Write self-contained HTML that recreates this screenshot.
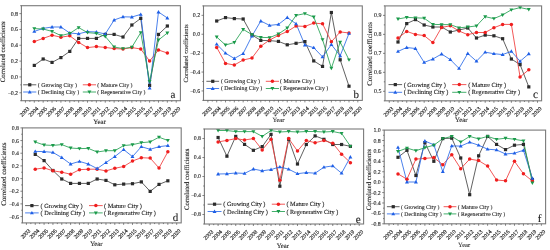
<!DOCTYPE html>
<html><head><meta charset="utf-8"><style>
html,body{margin:0;padding:0;background:#fff;width:550px;height:250px;overflow:hidden}
svg{display:block}
text{font-family:"Liberation Serif",serif;fill:#1a1a1a;stroke:#1a1a1a;stroke-width:0.1px;text-rendering:geometricPrecision}
svg{will-change:transform}

</style></head><body>
<svg width="550" height="250" viewBox="0 0 550 250">
<rect width="550" height="250" fill="#fff"/>
<polyline points="34.30,65.40 43.17,59.00 52.04,62.40 60.91,57.60 69.78,51.40 78.65,38.40 87.52,38.40 96.39,38.40 105.26,34.40 114.13,34.40 123.00,37.00 131.87,25.00 140.74,18.40 149.61,85.40 158.48,34.40 167.35,26.00" fill="none" stroke="#444444" stroke-width="0.85" stroke-linejoin="round"/>
<polyline points="34.30,41.60 43.17,38.40 52.04,35.20 60.91,37.20 69.78,35.80 78.65,42.40 87.52,47.60 96.39,46.60 105.26,47.40 114.13,48.60 123.00,49.00 131.87,47.60 140.74,49.00 149.61,61.00 158.48,50.00 167.35,53.00" fill="none" stroke="#f03a3a" stroke-width="0.85" stroke-linejoin="round"/>
<polyline points="34.30,31.40 43.17,28.40 52.04,27.00 60.91,27.00 69.78,33.00 78.65,33.80 87.52,31.60 96.39,32.00 105.26,34.00 114.13,20.00 123.00,16.80 131.87,17.00 140.74,14.40 149.61,88.00 158.48,12.00 167.35,18.00" fill="none" stroke="#2a6ae8" stroke-width="0.85" stroke-linejoin="round"/>
<polyline points="34.30,28.60 43.17,29.00 52.04,31.40 60.91,35.60 69.78,33.40 78.65,27.60 87.52,32.60 96.39,33.40 105.26,36.40 114.13,47.00 123.00,48.60 131.87,47.20 140.74,32.60 149.61,81.40 158.48,40.00 167.35,33.00" fill="none" stroke="#24a052" stroke-width="0.85" stroke-linejoin="round"/>
<rect x="32.70" y="63.80" width="3.20" height="3.20" fill="#2b2b2b"/>
<rect x="41.57" y="57.40" width="3.20" height="3.20" fill="#2b2b2b"/>
<rect x="50.44" y="60.80" width="3.20" height="3.20" fill="#2b2b2b"/>
<rect x="59.31" y="56.00" width="3.20" height="3.20" fill="#2b2b2b"/>
<rect x="68.18" y="49.80" width="3.20" height="3.20" fill="#2b2b2b"/>
<rect x="77.05" y="36.80" width="3.20" height="3.20" fill="#2b2b2b"/>
<rect x="85.92" y="36.80" width="3.20" height="3.20" fill="#2b2b2b"/>
<rect x="94.79" y="36.80" width="3.20" height="3.20" fill="#2b2b2b"/>
<rect x="103.66" y="32.80" width="3.20" height="3.20" fill="#2b2b2b"/>
<rect x="112.53" y="32.80" width="3.20" height="3.20" fill="#2b2b2b"/>
<rect x="121.40" y="35.40" width="3.20" height="3.20" fill="#2b2b2b"/>
<rect x="130.27" y="23.40" width="3.20" height="3.20" fill="#2b2b2b"/>
<rect x="139.14" y="16.80" width="3.20" height="3.20" fill="#2b2b2b"/>
<rect x="148.01" y="83.80" width="3.20" height="3.20" fill="#2b2b2b"/>
<rect x="156.88" y="32.80" width="3.20" height="3.20" fill="#2b2b2b"/>
<rect x="165.75" y="24.40" width="3.20" height="3.20" fill="#2b2b2b"/>
<circle cx="34.30" cy="41.60" r="1.75" fill="#f01e1e"/>
<circle cx="43.17" cy="38.40" r="1.75" fill="#f01e1e"/>
<circle cx="52.04" cy="35.20" r="1.75" fill="#f01e1e"/>
<circle cx="60.91" cy="37.20" r="1.75" fill="#f01e1e"/>
<circle cx="69.78" cy="35.80" r="1.75" fill="#f01e1e"/>
<circle cx="78.65" cy="42.40" r="1.75" fill="#f01e1e"/>
<circle cx="87.52" cy="47.60" r="1.75" fill="#f01e1e"/>
<circle cx="96.39" cy="46.60" r="1.75" fill="#f01e1e"/>
<circle cx="105.26" cy="47.40" r="1.75" fill="#f01e1e"/>
<circle cx="114.13" cy="48.60" r="1.75" fill="#f01e1e"/>
<circle cx="123.00" cy="49.00" r="1.75" fill="#f01e1e"/>
<circle cx="131.87" cy="47.60" r="1.75" fill="#f01e1e"/>
<circle cx="140.74" cy="49.00" r="1.75" fill="#f01e1e"/>
<circle cx="149.61" cy="61.00" r="1.75" fill="#f01e1e"/>
<circle cx="158.48" cy="50.00" r="1.75" fill="#f01e1e"/>
<circle cx="167.35" cy="53.00" r="1.75" fill="#f01e1e"/>
<path d="M34.30 29.42L36.28 32.79L32.32 32.79Z" fill="#1f5fe6"/>
<path d="M43.17 26.42L45.15 29.79L41.19 29.79Z" fill="#1f5fe6"/>
<path d="M52.04 25.02L54.02 28.39L50.06 28.39Z" fill="#1f5fe6"/>
<path d="M60.91 25.02L62.89 28.39L58.93 28.39Z" fill="#1f5fe6"/>
<path d="M69.78 31.02L71.76 34.39L67.80 34.39Z" fill="#1f5fe6"/>
<path d="M78.65 31.82L80.63 35.19L76.67 35.19Z" fill="#1f5fe6"/>
<path d="M87.52 29.62L89.50 32.99L85.54 32.99Z" fill="#1f5fe6"/>
<path d="M96.39 30.02L98.37 33.39L94.41 33.39Z" fill="#1f5fe6"/>
<path d="M105.26 32.02L107.24 35.39L103.28 35.39Z" fill="#1f5fe6"/>
<path d="M114.13 18.02L116.11 21.39L112.15 21.39Z" fill="#1f5fe6"/>
<path d="M123.00 14.82L124.98 18.19L121.02 18.19Z" fill="#1f5fe6"/>
<path d="M131.87 15.02L133.85 18.39L129.89 18.39Z" fill="#1f5fe6"/>
<path d="M140.74 12.42L142.72 15.79L138.76 15.79Z" fill="#1f5fe6"/>
<path d="M149.61 86.02L151.59 89.39L147.63 89.39Z" fill="#1f5fe6"/>
<path d="M158.48 10.02L160.46 13.39L156.50 13.39Z" fill="#1f5fe6"/>
<path d="M167.35 16.02L169.33 19.39L165.37 19.39Z" fill="#1f5fe6"/>
<path d="M34.30 30.58L36.28 27.21L32.32 27.21Z" fill="#1a9a4a"/>
<path d="M43.17 30.98L45.15 27.61L41.19 27.61Z" fill="#1a9a4a"/>
<path d="M52.04 33.38L54.02 30.01L50.06 30.01Z" fill="#1a9a4a"/>
<path d="M60.91 37.58L62.89 34.21L58.93 34.21Z" fill="#1a9a4a"/>
<path d="M69.78 35.38L71.76 32.01L67.80 32.01Z" fill="#1a9a4a"/>
<path d="M78.65 29.58L80.63 26.21L76.67 26.21Z" fill="#1a9a4a"/>
<path d="M87.52 34.58L89.50 31.21L85.54 31.21Z" fill="#1a9a4a"/>
<path d="M96.39 35.38L98.37 32.01L94.41 32.01Z" fill="#1a9a4a"/>
<path d="M105.26 38.38L107.24 35.01L103.28 35.01Z" fill="#1a9a4a"/>
<path d="M114.13 48.98L116.11 45.61L112.15 45.61Z" fill="#1a9a4a"/>
<path d="M123.00 50.58L124.98 47.21L121.02 47.21Z" fill="#1a9a4a"/>
<path d="M131.87 49.18L133.85 45.81L129.89 45.81Z" fill="#1a9a4a"/>
<path d="M140.74 34.58L142.72 31.21L138.76 31.21Z" fill="#1a9a4a"/>
<path d="M149.61 83.38L151.59 80.01L147.63 80.01Z" fill="#1a9a4a"/>
<path d="M158.48 41.98L160.46 38.61L156.50 38.61Z" fill="#1a9a4a"/>
<path d="M167.35 34.98L169.33 31.61L165.37 31.61Z" fill="#1a9a4a"/>
<rect x="21.40" y="5.70" width="159.00" height="95.00" fill="none" stroke="#7a7a7a" stroke-width="1.1"/>
<line x1="20.20" y1="100.70" x2="21.40" y2="100.70" stroke="#555" stroke-width="0.7"/>
<line x1="19.40" y1="92.78" x2="21.40" y2="92.78" stroke="#555" stroke-width="0.7"/>
<text x="18.00" y="94.79" font-size="5.9" text-anchor="end">–<tspan dx="-0.7">0.2</tspan></text>
<line x1="20.20" y1="84.87" x2="21.40" y2="84.87" stroke="#555" stroke-width="0.7"/>
<line x1="19.40" y1="76.95" x2="21.40" y2="76.95" stroke="#555" stroke-width="0.7"/>
<text x="18.00" y="78.96" font-size="5.9" text-anchor="end">0.0</text>
<line x1="20.20" y1="69.03" x2="21.40" y2="69.03" stroke="#555" stroke-width="0.7"/>
<line x1="19.40" y1="61.12" x2="21.40" y2="61.12" stroke="#555" stroke-width="0.7"/>
<text x="18.00" y="63.12" font-size="5.9" text-anchor="end">0.2</text>
<line x1="20.20" y1="53.20" x2="21.40" y2="53.20" stroke="#555" stroke-width="0.7"/>
<line x1="19.40" y1="45.28" x2="21.40" y2="45.28" stroke="#555" stroke-width="0.7"/>
<text x="18.00" y="47.29" font-size="5.9" text-anchor="end">0.4</text>
<line x1="20.20" y1="37.37" x2="21.40" y2="37.37" stroke="#555" stroke-width="0.7"/>
<line x1="19.40" y1="29.45" x2="21.40" y2="29.45" stroke="#555" stroke-width="0.7"/>
<text x="18.00" y="31.46" font-size="5.9" text-anchor="end">0.6</text>
<line x1="20.20" y1="21.53" x2="21.40" y2="21.53" stroke="#555" stroke-width="0.7"/>
<line x1="19.40" y1="13.62" x2="21.40" y2="13.62" stroke="#555" stroke-width="0.7"/>
<text x="18.00" y="15.62" font-size="5.9" text-anchor="end">0.8</text>
<line x1="20.20" y1="5.70" x2="21.40" y2="5.70" stroke="#555" stroke-width="0.7"/>
<line x1="25.43" y1="100.70" x2="25.43" y2="102.70" stroke="#555" stroke-width="0.7"/>
<line x1="29.86" y1="100.70" x2="29.86" y2="101.90" stroke="#555" stroke-width="0.7"/>
<text x="29.83" y="109.00" font-size="5.6" text-anchor="end" style="stroke-width:0.16px" transform="rotate(-45 29.83 109.00)">2003</text>
<line x1="34.30" y1="100.70" x2="34.30" y2="102.70" stroke="#555" stroke-width="0.7"/>
<line x1="38.73" y1="100.70" x2="38.73" y2="101.90" stroke="#555" stroke-width="0.7"/>
<text x="38.70" y="109.00" font-size="5.6" text-anchor="end" style="stroke-width:0.16px" transform="rotate(-45 38.70 109.00)">2004</text>
<line x1="43.17" y1="100.70" x2="43.17" y2="102.70" stroke="#555" stroke-width="0.7"/>
<line x1="47.60" y1="100.70" x2="47.60" y2="101.90" stroke="#555" stroke-width="0.7"/>
<text x="47.57" y="109.00" font-size="5.6" text-anchor="end" style="stroke-width:0.16px" transform="rotate(-45 47.57 109.00)">2005</text>
<line x1="52.04" y1="100.70" x2="52.04" y2="102.70" stroke="#555" stroke-width="0.7"/>
<line x1="56.47" y1="100.70" x2="56.47" y2="101.90" stroke="#555" stroke-width="0.7"/>
<text x="56.44" y="109.00" font-size="5.6" text-anchor="end" style="stroke-width:0.16px" transform="rotate(-45 56.44 109.00)">2006</text>
<line x1="60.91" y1="100.70" x2="60.91" y2="102.70" stroke="#555" stroke-width="0.7"/>
<line x1="65.34" y1="100.70" x2="65.34" y2="101.90" stroke="#555" stroke-width="0.7"/>
<text x="65.31" y="109.00" font-size="5.6" text-anchor="end" style="stroke-width:0.16px" transform="rotate(-45 65.31 109.00)">2007</text>
<line x1="69.78" y1="100.70" x2="69.78" y2="102.70" stroke="#555" stroke-width="0.7"/>
<line x1="74.22" y1="100.70" x2="74.22" y2="101.90" stroke="#555" stroke-width="0.7"/>
<text x="74.18" y="109.00" font-size="5.6" text-anchor="end" style="stroke-width:0.16px" transform="rotate(-45 74.18 109.00)">2008</text>
<line x1="78.65" y1="100.70" x2="78.65" y2="102.70" stroke="#555" stroke-width="0.7"/>
<line x1="83.08" y1="100.70" x2="83.08" y2="101.90" stroke="#555" stroke-width="0.7"/>
<text x="83.05" y="109.00" font-size="5.6" text-anchor="end" style="stroke-width:0.16px" transform="rotate(-45 83.05 109.00)">2009</text>
<line x1="87.52" y1="100.70" x2="87.52" y2="102.70" stroke="#555" stroke-width="0.7"/>
<line x1="91.95" y1="100.70" x2="91.95" y2="101.90" stroke="#555" stroke-width="0.7"/>
<text x="91.92" y="109.00" font-size="5.6" text-anchor="end" style="stroke-width:0.16px" transform="rotate(-45 91.92 109.00)">2010</text>
<line x1="96.39" y1="100.70" x2="96.39" y2="102.70" stroke="#555" stroke-width="0.7"/>
<line x1="100.82" y1="100.70" x2="100.82" y2="101.90" stroke="#555" stroke-width="0.7"/>
<text x="100.79" y="109.00" font-size="5.6" text-anchor="end" style="stroke-width:0.16px" transform="rotate(-45 100.79 109.00)">2011</text>
<line x1="105.26" y1="100.70" x2="105.26" y2="102.70" stroke="#555" stroke-width="0.7"/>
<line x1="109.69" y1="100.70" x2="109.69" y2="101.90" stroke="#555" stroke-width="0.7"/>
<text x="109.66" y="109.00" font-size="5.6" text-anchor="end" style="stroke-width:0.16px" transform="rotate(-45 109.66 109.00)">2012</text>
<line x1="114.13" y1="100.70" x2="114.13" y2="102.70" stroke="#555" stroke-width="0.7"/>
<line x1="118.56" y1="100.70" x2="118.56" y2="101.90" stroke="#555" stroke-width="0.7"/>
<text x="118.53" y="109.00" font-size="5.6" text-anchor="end" style="stroke-width:0.16px" transform="rotate(-45 118.53 109.00)">2013</text>
<line x1="123.00" y1="100.70" x2="123.00" y2="102.70" stroke="#555" stroke-width="0.7"/>
<line x1="127.43" y1="100.70" x2="127.43" y2="101.90" stroke="#555" stroke-width="0.7"/>
<text x="127.40" y="109.00" font-size="5.6" text-anchor="end" style="stroke-width:0.16px" transform="rotate(-45 127.40 109.00)">2014</text>
<line x1="131.87" y1="100.70" x2="131.87" y2="102.70" stroke="#555" stroke-width="0.7"/>
<line x1="136.31" y1="100.70" x2="136.31" y2="101.90" stroke="#555" stroke-width="0.7"/>
<text x="136.27" y="109.00" font-size="5.6" text-anchor="end" style="stroke-width:0.16px" transform="rotate(-45 136.27 109.00)">2015</text>
<line x1="140.74" y1="100.70" x2="140.74" y2="102.70" stroke="#555" stroke-width="0.7"/>
<line x1="145.18" y1="100.70" x2="145.18" y2="101.90" stroke="#555" stroke-width="0.7"/>
<text x="145.14" y="109.00" font-size="5.6" text-anchor="end" style="stroke-width:0.16px" transform="rotate(-45 145.14 109.00)">2016</text>
<line x1="149.61" y1="100.70" x2="149.61" y2="102.70" stroke="#555" stroke-width="0.7"/>
<line x1="154.04" y1="100.70" x2="154.04" y2="101.90" stroke="#555" stroke-width="0.7"/>
<text x="154.01" y="109.00" font-size="5.6" text-anchor="end" style="stroke-width:0.16px" transform="rotate(-45 154.01 109.00)">2017</text>
<line x1="158.48" y1="100.70" x2="158.48" y2="102.70" stroke="#555" stroke-width="0.7"/>
<line x1="162.91" y1="100.70" x2="162.91" y2="101.90" stroke="#555" stroke-width="0.7"/>
<text x="162.88" y="109.00" font-size="5.6" text-anchor="end" style="stroke-width:0.16px" transform="rotate(-45 162.88 109.00)">2018</text>
<line x1="167.35" y1="100.70" x2="167.35" y2="102.70" stroke="#555" stroke-width="0.7"/>
<line x1="171.78" y1="100.70" x2="171.78" y2="101.90" stroke="#555" stroke-width="0.7"/>
<text x="171.75" y="109.00" font-size="5.6" text-anchor="end" style="stroke-width:0.16px" transform="rotate(-45 171.75 109.00)">2019</text>
<line x1="176.22" y1="100.70" x2="176.22" y2="102.70" stroke="#555" stroke-width="0.7"/>
<text x="180.62" y="109.00" font-size="5.6" text-anchor="end" style="stroke-width:0.16px" transform="rotate(-45 180.62 109.00)">2020</text>
<text x="99.60" y="123.6" font-size="6.9" text-anchor="middle">Year</text>
<text x="5.00" y="51.80" font-size="6.7" text-anchor="middle" transform="rotate(-90 5.00 51.80)">Correlated coefficients</text>
<line x1="23.20" y1="84.80" x2="36.30" y2="84.80" stroke="#444444" stroke-width="0.85"/>
<rect x="28.15" y="83.20" width="3.20" height="3.20" fill="#2b2b2b"/>
<text x="37.80" y="86.67" font-size="5.85">( Growing City )</text>
<line x1="23.20" y1="92.00" x2="36.30" y2="92.00" stroke="#2a6ae8" stroke-width="0.85"/>
<path d="M29.75 90.02L31.73 93.39L27.77 93.39Z" fill="#1f5fe6"/>
<text x="37.80" y="93.87" font-size="5.85">( Declining City )</text>
<line x1="82.80" y1="84.80" x2="96.00" y2="84.80" stroke="#f03a3a" stroke-width="0.85"/>
<circle cx="89.40" cy="84.80" r="1.75" fill="#f01e1e"/>
<text x="97.30" y="86.67" font-size="5.85">( Mature City )</text>
<line x1="82.80" y1="92.00" x2="96.00" y2="92.00" stroke="#24a052" stroke-width="0.85"/>
<path d="M89.40 93.98L91.38 90.61L87.42 90.61Z" fill="#1a9a4a"/>
<text x="97.30" y="93.87" font-size="5.85" textLength="48.12" lengthAdjust="spacingAndGlyphs">( Regenerative City )</text>
<text x="170.60" y="97.60" font-size="11">a</text>
<polyline points="216.70,21.00 225.52,17.60 234.34,18.60 243.16,19.00 251.98,35.00 260.80,40.40 269.62,40.60 278.44,41.40 287.26,44.80 296.08,43.30 304.90,41.60 313.72,60.90 322.54,66.40 331.36,12.50 340.18,59.80 349.00,86.20" fill="none" stroke="#444444" stroke-width="0.85" stroke-linejoin="round"/>
<polyline points="216.70,47.40 225.52,63.40 234.34,65.00 243.16,60.00 251.98,58.00 260.80,46.20 269.62,40.00 278.44,35.40 287.26,31.50 296.08,26.00 304.90,26.40 313.72,23.10 322.54,23.80 331.36,41.80 340.18,31.90 349.00,33.00" fill="none" stroke="#f03a3a" stroke-width="0.85" stroke-linejoin="round"/>
<polyline points="216.70,44.20 225.52,53.20 234.34,58.50 243.16,53.50 251.98,36.00 260.80,21.00 269.62,25.40 278.44,24.40 287.26,17.60 296.08,23.80 304.90,45.00 313.72,47.70 322.54,56.90 331.36,44.60 340.18,55.80 349.00,33.40" fill="none" stroke="#2a6ae8" stroke-width="0.85" stroke-linejoin="round"/>
<polyline points="216.70,37.00 225.52,45.00 234.34,42.50 243.16,29.40 251.98,34.60 260.80,37.40 269.62,37.60 278.44,34.00 287.26,28.00 296.08,15.40 304.90,13.60 313.72,17.00 322.54,39.60 331.36,68.20 340.18,42.20 349.00,59.80" fill="none" stroke="#24a052" stroke-width="0.85" stroke-linejoin="round"/>
<rect x="215.10" y="19.40" width="3.20" height="3.20" fill="#2b2b2b"/>
<rect x="223.92" y="16.00" width="3.20" height="3.20" fill="#2b2b2b"/>
<rect x="232.74" y="17.00" width="3.20" height="3.20" fill="#2b2b2b"/>
<rect x="241.56" y="17.40" width="3.20" height="3.20" fill="#2b2b2b"/>
<rect x="250.38" y="33.40" width="3.20" height="3.20" fill="#2b2b2b"/>
<rect x="259.20" y="38.80" width="3.20" height="3.20" fill="#2b2b2b"/>
<rect x="268.02" y="39.00" width="3.20" height="3.20" fill="#2b2b2b"/>
<rect x="276.84" y="39.80" width="3.20" height="3.20" fill="#2b2b2b"/>
<rect x="285.66" y="43.20" width="3.20" height="3.20" fill="#2b2b2b"/>
<rect x="294.48" y="41.70" width="3.20" height="3.20" fill="#2b2b2b"/>
<rect x="303.30" y="40.00" width="3.20" height="3.20" fill="#2b2b2b"/>
<rect x="312.12" y="59.30" width="3.20" height="3.20" fill="#2b2b2b"/>
<rect x="320.94" y="64.80" width="3.20" height="3.20" fill="#2b2b2b"/>
<rect x="329.76" y="10.90" width="3.20" height="3.20" fill="#2b2b2b"/>
<rect x="338.58" y="58.20" width="3.20" height="3.20" fill="#2b2b2b"/>
<rect x="347.40" y="84.60" width="3.20" height="3.20" fill="#2b2b2b"/>
<circle cx="216.70" cy="47.40" r="1.75" fill="#f01e1e"/>
<circle cx="225.52" cy="63.40" r="1.75" fill="#f01e1e"/>
<circle cx="234.34" cy="65.00" r="1.75" fill="#f01e1e"/>
<circle cx="243.16" cy="60.00" r="1.75" fill="#f01e1e"/>
<circle cx="251.98" cy="58.00" r="1.75" fill="#f01e1e"/>
<circle cx="260.80" cy="46.20" r="1.75" fill="#f01e1e"/>
<circle cx="269.62" cy="40.00" r="1.75" fill="#f01e1e"/>
<circle cx="278.44" cy="35.40" r="1.75" fill="#f01e1e"/>
<circle cx="287.26" cy="31.50" r="1.75" fill="#f01e1e"/>
<circle cx="296.08" cy="26.00" r="1.75" fill="#f01e1e"/>
<circle cx="304.90" cy="26.40" r="1.75" fill="#f01e1e"/>
<circle cx="313.72" cy="23.10" r="1.75" fill="#f01e1e"/>
<circle cx="322.54" cy="23.80" r="1.75" fill="#f01e1e"/>
<circle cx="331.36" cy="41.80" r="1.75" fill="#f01e1e"/>
<circle cx="340.18" cy="31.90" r="1.75" fill="#f01e1e"/>
<circle cx="349.00" cy="33.00" r="1.75" fill="#f01e1e"/>
<path d="M216.70 42.22L218.68 45.59L214.72 45.59Z" fill="#1f5fe6"/>
<path d="M225.52 51.22L227.50 54.59L223.54 54.59Z" fill="#1f5fe6"/>
<path d="M234.34 56.52L236.32 59.89L232.36 59.89Z" fill="#1f5fe6"/>
<path d="M243.16 51.52L245.14 54.89L241.18 54.89Z" fill="#1f5fe6"/>
<path d="M251.98 34.02L253.96 37.39L250.00 37.39Z" fill="#1f5fe6"/>
<path d="M260.80 19.02L262.78 22.39L258.82 22.39Z" fill="#1f5fe6"/>
<path d="M269.62 23.42L271.60 26.79L267.64 26.79Z" fill="#1f5fe6"/>
<path d="M278.44 22.42L280.42 25.79L276.46 25.79Z" fill="#1f5fe6"/>
<path d="M287.26 15.62L289.24 18.99L285.28 18.99Z" fill="#1f5fe6"/>
<path d="M296.08 21.82L298.06 25.19L294.10 25.19Z" fill="#1f5fe6"/>
<path d="M304.90 43.02L306.88 46.39L302.92 46.39Z" fill="#1f5fe6"/>
<path d="M313.72 45.72L315.70 49.09L311.74 49.09Z" fill="#1f5fe6"/>
<path d="M322.54 54.92L324.52 58.29L320.56 58.29Z" fill="#1f5fe6"/>
<path d="M331.36 42.62L333.34 45.99L329.38 45.99Z" fill="#1f5fe6"/>
<path d="M340.18 53.82L342.16 57.19L338.20 57.19Z" fill="#1f5fe6"/>
<path d="M349.00 31.42L350.98 34.79L347.02 34.79Z" fill="#1f5fe6"/>
<path d="M216.70 38.98L218.68 35.61L214.72 35.61Z" fill="#1a9a4a"/>
<path d="M225.52 46.98L227.50 43.61L223.54 43.61Z" fill="#1a9a4a"/>
<path d="M234.34 44.48L236.32 41.11L232.36 41.11Z" fill="#1a9a4a"/>
<path d="M243.16 31.38L245.14 28.01L241.18 28.01Z" fill="#1a9a4a"/>
<path d="M251.98 36.58L253.96 33.21L250.00 33.21Z" fill="#1a9a4a"/>
<path d="M260.80 39.38L262.78 36.01L258.82 36.01Z" fill="#1a9a4a"/>
<path d="M269.62 39.58L271.60 36.21L267.64 36.21Z" fill="#1a9a4a"/>
<path d="M278.44 35.98L280.42 32.61L276.46 32.61Z" fill="#1a9a4a"/>
<path d="M287.26 29.98L289.24 26.61L285.28 26.61Z" fill="#1a9a4a"/>
<path d="M296.08 17.38L298.06 14.01L294.10 14.01Z" fill="#1a9a4a"/>
<path d="M304.90 15.58L306.88 12.21L302.92 12.21Z" fill="#1a9a4a"/>
<path d="M313.72 18.98L315.70 15.61L311.74 15.61Z" fill="#1a9a4a"/>
<path d="M322.54 41.58L324.52 38.21L320.56 38.21Z" fill="#1a9a4a"/>
<path d="M331.36 70.18L333.34 66.81L329.38 66.81Z" fill="#1a9a4a"/>
<path d="M340.18 44.18L342.16 40.81L338.20 40.81Z" fill="#1a9a4a"/>
<path d="M349.00 61.78L350.98 58.41L347.02 58.41Z" fill="#1a9a4a"/>
<rect x="203.50" y="5.90" width="158.80" height="94.50" fill="none" stroke="#7a7a7a" stroke-width="1.1"/>
<line x1="202.30" y1="100.40" x2="203.50" y2="100.40" stroke="#555" stroke-width="0.7"/>
<line x1="201.50" y1="90.95" x2="203.50" y2="90.95" stroke="#555" stroke-width="0.7"/>
<text x="200.10" y="92.96" font-size="5.9" text-anchor="end">–<tspan dx="-0.7">0.6</tspan></text>
<line x1="202.30" y1="81.50" x2="203.50" y2="81.50" stroke="#555" stroke-width="0.7"/>
<line x1="201.50" y1="72.05" x2="203.50" y2="72.05" stroke="#555" stroke-width="0.7"/>
<text x="200.10" y="74.06" font-size="5.9" text-anchor="end">–<tspan dx="-0.7">0.4</tspan></text>
<line x1="202.30" y1="62.60" x2="203.50" y2="62.60" stroke="#555" stroke-width="0.7"/>
<line x1="201.50" y1="53.15" x2="203.50" y2="53.15" stroke="#555" stroke-width="0.7"/>
<text x="200.10" y="55.16" font-size="5.9" text-anchor="end">–<tspan dx="-0.7">0.2</tspan></text>
<line x1="202.30" y1="43.70" x2="203.50" y2="43.70" stroke="#555" stroke-width="0.7"/>
<line x1="201.50" y1="34.25" x2="203.50" y2="34.25" stroke="#555" stroke-width="0.7"/>
<text x="200.10" y="36.26" font-size="5.9" text-anchor="end">0.0</text>
<line x1="202.30" y1="24.80" x2="203.50" y2="24.80" stroke="#555" stroke-width="0.7"/>
<line x1="201.50" y1="15.35" x2="203.50" y2="15.35" stroke="#555" stroke-width="0.7"/>
<text x="200.10" y="17.36" font-size="5.9" text-anchor="end">0.2</text>
<line x1="202.30" y1="5.90" x2="203.50" y2="5.90" stroke="#555" stroke-width="0.7"/>
<line x1="207.88" y1="100.40" x2="207.88" y2="102.40" stroke="#555" stroke-width="0.7"/>
<line x1="212.29" y1="100.40" x2="212.29" y2="101.60" stroke="#555" stroke-width="0.7"/>
<text x="212.28" y="108.70" font-size="5.6" text-anchor="end" style="stroke-width:0.16px" transform="rotate(-45 212.28 108.70)">2003</text>
<line x1="216.70" y1="100.40" x2="216.70" y2="102.40" stroke="#555" stroke-width="0.7"/>
<line x1="221.11" y1="100.40" x2="221.11" y2="101.60" stroke="#555" stroke-width="0.7"/>
<text x="221.10" y="108.70" font-size="5.6" text-anchor="end" style="stroke-width:0.16px" transform="rotate(-45 221.10 108.70)">2004</text>
<line x1="225.52" y1="100.40" x2="225.52" y2="102.40" stroke="#555" stroke-width="0.7"/>
<line x1="229.93" y1="100.40" x2="229.93" y2="101.60" stroke="#555" stroke-width="0.7"/>
<text x="229.92" y="108.70" font-size="5.6" text-anchor="end" style="stroke-width:0.16px" transform="rotate(-45 229.92 108.70)">2005</text>
<line x1="234.34" y1="100.40" x2="234.34" y2="102.40" stroke="#555" stroke-width="0.7"/>
<line x1="238.75" y1="100.40" x2="238.75" y2="101.60" stroke="#555" stroke-width="0.7"/>
<text x="238.74" y="108.70" font-size="5.6" text-anchor="end" style="stroke-width:0.16px" transform="rotate(-45 238.74 108.70)">2006</text>
<line x1="243.16" y1="100.40" x2="243.16" y2="102.40" stroke="#555" stroke-width="0.7"/>
<line x1="247.57" y1="100.40" x2="247.57" y2="101.60" stroke="#555" stroke-width="0.7"/>
<text x="247.56" y="108.70" font-size="5.6" text-anchor="end" style="stroke-width:0.16px" transform="rotate(-45 247.56 108.70)">2007</text>
<line x1="251.98" y1="100.40" x2="251.98" y2="102.40" stroke="#555" stroke-width="0.7"/>
<line x1="256.39" y1="100.40" x2="256.39" y2="101.60" stroke="#555" stroke-width="0.7"/>
<text x="256.38" y="108.70" font-size="5.6" text-anchor="end" style="stroke-width:0.16px" transform="rotate(-45 256.38 108.70)">2008</text>
<line x1="260.80" y1="100.40" x2="260.80" y2="102.40" stroke="#555" stroke-width="0.7"/>
<line x1="265.21" y1="100.40" x2="265.21" y2="101.60" stroke="#555" stroke-width="0.7"/>
<text x="265.20" y="108.70" font-size="5.6" text-anchor="end" style="stroke-width:0.16px" transform="rotate(-45 265.20 108.70)">2009</text>
<line x1="269.62" y1="100.40" x2="269.62" y2="102.40" stroke="#555" stroke-width="0.7"/>
<line x1="274.03" y1="100.40" x2="274.03" y2="101.60" stroke="#555" stroke-width="0.7"/>
<text x="274.02" y="108.70" font-size="5.6" text-anchor="end" style="stroke-width:0.16px" transform="rotate(-45 274.02 108.70)">2010</text>
<line x1="278.44" y1="100.40" x2="278.44" y2="102.40" stroke="#555" stroke-width="0.7"/>
<line x1="282.85" y1="100.40" x2="282.85" y2="101.60" stroke="#555" stroke-width="0.7"/>
<text x="282.84" y="108.70" font-size="5.6" text-anchor="end" style="stroke-width:0.16px" transform="rotate(-45 282.84 108.70)">2011</text>
<line x1="287.26" y1="100.40" x2="287.26" y2="102.40" stroke="#555" stroke-width="0.7"/>
<line x1="291.67" y1="100.40" x2="291.67" y2="101.60" stroke="#555" stroke-width="0.7"/>
<text x="291.66" y="108.70" font-size="5.6" text-anchor="end" style="stroke-width:0.16px" transform="rotate(-45 291.66 108.70)">2012</text>
<line x1="296.08" y1="100.40" x2="296.08" y2="102.40" stroke="#555" stroke-width="0.7"/>
<line x1="300.49" y1="100.40" x2="300.49" y2="101.60" stroke="#555" stroke-width="0.7"/>
<text x="300.48" y="108.70" font-size="5.6" text-anchor="end" style="stroke-width:0.16px" transform="rotate(-45 300.48 108.70)">2013</text>
<line x1="304.90" y1="100.40" x2="304.90" y2="102.40" stroke="#555" stroke-width="0.7"/>
<line x1="309.31" y1="100.40" x2="309.31" y2="101.60" stroke="#555" stroke-width="0.7"/>
<text x="309.30" y="108.70" font-size="5.6" text-anchor="end" style="stroke-width:0.16px" transform="rotate(-45 309.30 108.70)">2014</text>
<line x1="313.72" y1="100.40" x2="313.72" y2="102.40" stroke="#555" stroke-width="0.7"/>
<line x1="318.13" y1="100.40" x2="318.13" y2="101.60" stroke="#555" stroke-width="0.7"/>
<text x="318.12" y="108.70" font-size="5.6" text-anchor="end" style="stroke-width:0.16px" transform="rotate(-45 318.12 108.70)">2015</text>
<line x1="322.54" y1="100.40" x2="322.54" y2="102.40" stroke="#555" stroke-width="0.7"/>
<line x1="326.95" y1="100.40" x2="326.95" y2="101.60" stroke="#555" stroke-width="0.7"/>
<text x="326.94" y="108.70" font-size="5.6" text-anchor="end" style="stroke-width:0.16px" transform="rotate(-45 326.94 108.70)">2016</text>
<line x1="331.36" y1="100.40" x2="331.36" y2="102.40" stroke="#555" stroke-width="0.7"/>
<line x1="335.77" y1="100.40" x2="335.77" y2="101.60" stroke="#555" stroke-width="0.7"/>
<text x="335.76" y="108.70" font-size="5.6" text-anchor="end" style="stroke-width:0.16px" transform="rotate(-45 335.76 108.70)">2017</text>
<line x1="340.18" y1="100.40" x2="340.18" y2="102.40" stroke="#555" stroke-width="0.7"/>
<line x1="344.59" y1="100.40" x2="344.59" y2="101.60" stroke="#555" stroke-width="0.7"/>
<text x="344.58" y="108.70" font-size="5.6" text-anchor="end" style="stroke-width:0.16px" transform="rotate(-45 344.58 108.70)">2018</text>
<line x1="349.00" y1="100.40" x2="349.00" y2="102.40" stroke="#555" stroke-width="0.7"/>
<line x1="353.41" y1="100.40" x2="353.41" y2="101.60" stroke="#555" stroke-width="0.7"/>
<text x="353.40" y="108.70" font-size="5.6" text-anchor="end" style="stroke-width:0.16px" transform="rotate(-45 353.40 108.70)">2019</text>
<line x1="357.82" y1="100.40" x2="357.82" y2="102.40" stroke="#555" stroke-width="0.7"/>
<text x="362.22" y="108.70" font-size="5.6" text-anchor="end" style="stroke-width:0.16px" transform="rotate(-45 362.22 108.70)">2020</text>
<text x="278.40" y="122.1" font-size="6.5" text-anchor="middle">Year</text>
<text x="188.00" y="53.30" font-size="6.4" text-anchor="middle" transform="rotate(-90 188.00 53.30)">Correlated coefficients</text>
<line x1="206.40" y1="81.30" x2="219.10" y2="81.30" stroke="#444444" stroke-width="0.85"/>
<rect x="211.15" y="79.70" width="3.20" height="3.20" fill="#2b2b2b"/>
<text x="220.90" y="83.17" font-size="5.85">( Growing City )</text>
<line x1="206.40" y1="88.50" x2="219.10" y2="88.50" stroke="#2a6ae8" stroke-width="0.85"/>
<path d="M212.75 86.52L214.73 89.89L210.77 89.89Z" fill="#1f5fe6"/>
<text x="220.90" y="90.37" font-size="5.85">( Declining City )</text>
<line x1="265.80" y1="81.30" x2="279.00" y2="81.30" stroke="#f03a3a" stroke-width="0.85"/>
<circle cx="272.40" cy="81.30" r="1.75" fill="#f01e1e"/>
<text x="280.00" y="83.17" font-size="5.85">( Mature City )</text>
<line x1="265.80" y1="88.50" x2="279.00" y2="88.50" stroke="#24a052" stroke-width="0.85"/>
<path d="M272.40 90.48L274.38 87.11L270.42 87.11Z" fill="#1a9a4a"/>
<text x="280.00" y="90.37" font-size="5.85" textLength="48.12" lengthAdjust="spacingAndGlyphs">( Regenerative City )</text>
<text x="353.60" y="97.60" font-size="11">b</text>
<polyline points="398.00,42.00 406.72,23.60 415.44,19.60 424.16,25.00 432.88,27.00 441.60,27.00 450.32,32.00 459.04,30.00 467.76,28.00 476.48,38.00 485.20,35.10 493.92,35.80 502.64,38.70 511.36,59.00 520.08,64.60 528.80,86.90" fill="none" stroke="#444444" stroke-width="0.85" stroke-linejoin="round"/>
<polyline points="398.00,38.00 406.72,31.40 415.44,34.40 424.16,35.60 432.88,42.60 441.60,27.40 450.32,25.80 459.04,31.00 467.76,34.70 476.48,32.50 485.20,32.50 493.92,27.70 502.64,24.40 511.36,24.40 520.08,77.00 528.80,69.70" fill="none" stroke="#f03a3a" stroke-width="0.85" stroke-linejoin="round"/>
<polyline points="398.00,51.40 406.72,47.50 415.44,48.50 424.16,62.40 432.88,59.00 441.60,54.00 450.32,59.60 459.04,68.40 467.76,53.50 476.48,61.20 485.20,52.20 493.92,53.70 502.64,54.60 511.36,51.30 520.08,61.30 528.80,53.80" fill="none" stroke="#2a6ae8" stroke-width="0.85" stroke-linejoin="round"/>
<polyline points="398.00,19.00 406.72,17.40 415.44,17.80 424.16,18.20 432.88,24.40 441.60,24.60 450.32,24.60 459.04,27.80 467.76,27.00 476.48,25.90 485.20,16.70 493.92,18.60 502.64,14.90 511.36,9.80 520.08,7.60 528.80,9.40" fill="none" stroke="#24a052" stroke-width="0.85" stroke-linejoin="round"/>
<rect x="396.40" y="40.40" width="3.20" height="3.20" fill="#2b2b2b"/>
<rect x="405.12" y="22.00" width="3.20" height="3.20" fill="#2b2b2b"/>
<rect x="413.84" y="18.00" width="3.20" height="3.20" fill="#2b2b2b"/>
<rect x="422.56" y="23.40" width="3.20" height="3.20" fill="#2b2b2b"/>
<rect x="431.28" y="25.40" width="3.20" height="3.20" fill="#2b2b2b"/>
<rect x="440.00" y="25.40" width="3.20" height="3.20" fill="#2b2b2b"/>
<rect x="448.72" y="30.40" width="3.20" height="3.20" fill="#2b2b2b"/>
<rect x="457.44" y="28.40" width="3.20" height="3.20" fill="#2b2b2b"/>
<rect x="466.16" y="26.40" width="3.20" height="3.20" fill="#2b2b2b"/>
<rect x="474.88" y="36.40" width="3.20" height="3.20" fill="#2b2b2b"/>
<rect x="483.60" y="33.50" width="3.20" height="3.20" fill="#2b2b2b"/>
<rect x="492.32" y="34.20" width="3.20" height="3.20" fill="#2b2b2b"/>
<rect x="501.04" y="37.10" width="3.20" height="3.20" fill="#2b2b2b"/>
<rect x="509.76" y="57.40" width="3.20" height="3.20" fill="#2b2b2b"/>
<rect x="518.48" y="63.00" width="3.20" height="3.20" fill="#2b2b2b"/>
<rect x="527.20" y="85.30" width="3.20" height="3.20" fill="#2b2b2b"/>
<circle cx="398.00" cy="38.00" r="1.75" fill="#f01e1e"/>
<circle cx="406.72" cy="31.40" r="1.75" fill="#f01e1e"/>
<circle cx="415.44" cy="34.40" r="1.75" fill="#f01e1e"/>
<circle cx="424.16" cy="35.60" r="1.75" fill="#f01e1e"/>
<circle cx="432.88" cy="42.60" r="1.75" fill="#f01e1e"/>
<circle cx="441.60" cy="27.40" r="1.75" fill="#f01e1e"/>
<circle cx="450.32" cy="25.80" r="1.75" fill="#f01e1e"/>
<circle cx="459.04" cy="31.00" r="1.75" fill="#f01e1e"/>
<circle cx="467.76" cy="34.70" r="1.75" fill="#f01e1e"/>
<circle cx="476.48" cy="32.50" r="1.75" fill="#f01e1e"/>
<circle cx="485.20" cy="32.50" r="1.75" fill="#f01e1e"/>
<circle cx="493.92" cy="27.70" r="1.75" fill="#f01e1e"/>
<circle cx="502.64" cy="24.40" r="1.75" fill="#f01e1e"/>
<circle cx="511.36" cy="24.40" r="1.75" fill="#f01e1e"/>
<circle cx="520.08" cy="77.00" r="1.75" fill="#f01e1e"/>
<circle cx="528.80" cy="69.70" r="1.75" fill="#f01e1e"/>
<path d="M398.00 49.42L399.98 52.79L396.02 52.79Z" fill="#1f5fe6"/>
<path d="M406.72 45.52L408.70 48.89L404.74 48.89Z" fill="#1f5fe6"/>
<path d="M415.44 46.52L417.42 49.89L413.46 49.89Z" fill="#1f5fe6"/>
<path d="M424.16 60.42L426.14 63.79L422.18 63.79Z" fill="#1f5fe6"/>
<path d="M432.88 57.02L434.86 60.39L430.90 60.39Z" fill="#1f5fe6"/>
<path d="M441.60 52.02L443.58 55.39L439.62 55.39Z" fill="#1f5fe6"/>
<path d="M450.32 57.62L452.30 60.99L448.34 60.99Z" fill="#1f5fe6"/>
<path d="M459.04 66.42L461.02 69.79L457.06 69.79Z" fill="#1f5fe6"/>
<path d="M467.76 51.52L469.74 54.89L465.78 54.89Z" fill="#1f5fe6"/>
<path d="M476.48 59.22L478.46 62.59L474.50 62.59Z" fill="#1f5fe6"/>
<path d="M485.20 50.22L487.18 53.59L483.22 53.59Z" fill="#1f5fe6"/>
<path d="M493.92 51.72L495.90 55.09L491.94 55.09Z" fill="#1f5fe6"/>
<path d="M502.64 52.62L504.62 55.99L500.66 55.99Z" fill="#1f5fe6"/>
<path d="M511.36 49.32L513.34 52.69L509.38 52.69Z" fill="#1f5fe6"/>
<path d="M520.08 59.32L522.06 62.69L518.10 62.69Z" fill="#1f5fe6"/>
<path d="M528.80 51.82L530.78 55.19L526.82 55.19Z" fill="#1f5fe6"/>
<path d="M398.00 20.98L399.98 17.61L396.02 17.61Z" fill="#1a9a4a"/>
<path d="M406.72 19.38L408.70 16.01L404.74 16.01Z" fill="#1a9a4a"/>
<path d="M415.44 19.78L417.42 16.41L413.46 16.41Z" fill="#1a9a4a"/>
<path d="M424.16 20.18L426.14 16.81L422.18 16.81Z" fill="#1a9a4a"/>
<path d="M432.88 26.38L434.86 23.01L430.90 23.01Z" fill="#1a9a4a"/>
<path d="M441.60 26.58L443.58 23.21L439.62 23.21Z" fill="#1a9a4a"/>
<path d="M450.32 26.58L452.30 23.21L448.34 23.21Z" fill="#1a9a4a"/>
<path d="M459.04 29.78L461.02 26.41L457.06 26.41Z" fill="#1a9a4a"/>
<path d="M467.76 28.98L469.74 25.61L465.78 25.61Z" fill="#1a9a4a"/>
<path d="M476.48 27.88L478.46 24.51L474.50 24.51Z" fill="#1a9a4a"/>
<path d="M485.20 18.68L487.18 15.31L483.22 15.31Z" fill="#1a9a4a"/>
<path d="M493.92 20.58L495.90 17.21L491.94 17.21Z" fill="#1a9a4a"/>
<path d="M502.64 16.88L504.62 13.51L500.66 13.51Z" fill="#1a9a4a"/>
<path d="M511.36 11.78L513.34 8.41L509.38 8.41Z" fill="#1a9a4a"/>
<path d="M520.08 9.58L522.06 6.21L518.10 6.21Z" fill="#1a9a4a"/>
<path d="M528.80 11.38L530.78 8.01L526.82 8.01Z" fill="#1a9a4a"/>
<rect x="385.00" y="5.90" width="156.60" height="94.90" fill="none" stroke="#7a7a7a" stroke-width="1.1"/>
<line x1="383.80" y1="100.80" x2="385.00" y2="100.80" stroke="#555" stroke-width="0.7"/>
<line x1="383.00" y1="91.31" x2="385.00" y2="91.31" stroke="#555" stroke-width="0.7"/>
<text x="381.60" y="93.35" font-size="6.0" text-anchor="end">0.5</text>
<line x1="383.80" y1="81.82" x2="385.00" y2="81.82" stroke="#555" stroke-width="0.7"/>
<line x1="383.00" y1="72.33" x2="385.00" y2="72.33" stroke="#555" stroke-width="0.7"/>
<text x="381.60" y="74.37" font-size="6.0" text-anchor="end">0.6</text>
<line x1="383.80" y1="62.84" x2="385.00" y2="62.84" stroke="#555" stroke-width="0.7"/>
<line x1="383.00" y1="53.35" x2="385.00" y2="53.35" stroke="#555" stroke-width="0.7"/>
<text x="381.60" y="55.39" font-size="6.0" text-anchor="end">0.7</text>
<line x1="383.80" y1="43.86" x2="385.00" y2="43.86" stroke="#555" stroke-width="0.7"/>
<line x1="383.00" y1="34.37" x2="385.00" y2="34.37" stroke="#555" stroke-width="0.7"/>
<text x="381.60" y="36.41" font-size="6.0" text-anchor="end">0.8</text>
<line x1="383.80" y1="24.88" x2="385.00" y2="24.88" stroke="#555" stroke-width="0.7"/>
<line x1="383.00" y1="15.39" x2="385.00" y2="15.39" stroke="#555" stroke-width="0.7"/>
<text x="381.60" y="17.43" font-size="6.0" text-anchor="end">0.9</text>
<line x1="383.80" y1="5.90" x2="385.00" y2="5.90" stroke="#555" stroke-width="0.7"/>
<line x1="389.28" y1="100.80" x2="389.28" y2="102.80" stroke="#555" stroke-width="0.7"/>
<line x1="393.64" y1="100.80" x2="393.64" y2="102.00" stroke="#555" stroke-width="0.7"/>
<text x="393.68" y="109.10" font-size="5.6" text-anchor="end" style="stroke-width:0.16px" transform="rotate(-45 393.68 109.10)">2003</text>
<line x1="398.00" y1="100.80" x2="398.00" y2="102.80" stroke="#555" stroke-width="0.7"/>
<line x1="402.36" y1="100.80" x2="402.36" y2="102.00" stroke="#555" stroke-width="0.7"/>
<text x="402.40" y="109.10" font-size="5.6" text-anchor="end" style="stroke-width:0.16px" transform="rotate(-45 402.40 109.10)">2004</text>
<line x1="406.72" y1="100.80" x2="406.72" y2="102.80" stroke="#555" stroke-width="0.7"/>
<line x1="411.08" y1="100.80" x2="411.08" y2="102.00" stroke="#555" stroke-width="0.7"/>
<text x="411.12" y="109.10" font-size="5.6" text-anchor="end" style="stroke-width:0.16px" transform="rotate(-45 411.12 109.10)">2005</text>
<line x1="415.44" y1="100.80" x2="415.44" y2="102.80" stroke="#555" stroke-width="0.7"/>
<line x1="419.80" y1="100.80" x2="419.80" y2="102.00" stroke="#555" stroke-width="0.7"/>
<text x="419.84" y="109.10" font-size="5.6" text-anchor="end" style="stroke-width:0.16px" transform="rotate(-45 419.84 109.10)">2006</text>
<line x1="424.16" y1="100.80" x2="424.16" y2="102.80" stroke="#555" stroke-width="0.7"/>
<line x1="428.52" y1="100.80" x2="428.52" y2="102.00" stroke="#555" stroke-width="0.7"/>
<text x="428.56" y="109.10" font-size="5.6" text-anchor="end" style="stroke-width:0.16px" transform="rotate(-45 428.56 109.10)">2007</text>
<line x1="432.88" y1="100.80" x2="432.88" y2="102.80" stroke="#555" stroke-width="0.7"/>
<line x1="437.24" y1="100.80" x2="437.24" y2="102.00" stroke="#555" stroke-width="0.7"/>
<text x="437.28" y="109.10" font-size="5.6" text-anchor="end" style="stroke-width:0.16px" transform="rotate(-45 437.28 109.10)">2008</text>
<line x1="441.60" y1="100.80" x2="441.60" y2="102.80" stroke="#555" stroke-width="0.7"/>
<line x1="445.96" y1="100.80" x2="445.96" y2="102.00" stroke="#555" stroke-width="0.7"/>
<text x="446.00" y="109.10" font-size="5.6" text-anchor="end" style="stroke-width:0.16px" transform="rotate(-45 446.00 109.10)">2009</text>
<line x1="450.32" y1="100.80" x2="450.32" y2="102.80" stroke="#555" stroke-width="0.7"/>
<line x1="454.68" y1="100.80" x2="454.68" y2="102.00" stroke="#555" stroke-width="0.7"/>
<text x="454.72" y="109.10" font-size="5.6" text-anchor="end" style="stroke-width:0.16px" transform="rotate(-45 454.72 109.10)">2010</text>
<line x1="459.04" y1="100.80" x2="459.04" y2="102.80" stroke="#555" stroke-width="0.7"/>
<line x1="463.40" y1="100.80" x2="463.40" y2="102.00" stroke="#555" stroke-width="0.7"/>
<text x="463.44" y="109.10" font-size="5.6" text-anchor="end" style="stroke-width:0.16px" transform="rotate(-45 463.44 109.10)">2011</text>
<line x1="467.76" y1="100.80" x2="467.76" y2="102.80" stroke="#555" stroke-width="0.7"/>
<line x1="472.12" y1="100.80" x2="472.12" y2="102.00" stroke="#555" stroke-width="0.7"/>
<text x="472.16" y="109.10" font-size="5.6" text-anchor="end" style="stroke-width:0.16px" transform="rotate(-45 472.16 109.10)">2012</text>
<line x1="476.48" y1="100.80" x2="476.48" y2="102.80" stroke="#555" stroke-width="0.7"/>
<line x1="480.84" y1="100.80" x2="480.84" y2="102.00" stroke="#555" stroke-width="0.7"/>
<text x="480.88" y="109.10" font-size="5.6" text-anchor="end" style="stroke-width:0.16px" transform="rotate(-45 480.88 109.10)">2013</text>
<line x1="485.20" y1="100.80" x2="485.20" y2="102.80" stroke="#555" stroke-width="0.7"/>
<line x1="489.56" y1="100.80" x2="489.56" y2="102.00" stroke="#555" stroke-width="0.7"/>
<text x="489.60" y="109.10" font-size="5.6" text-anchor="end" style="stroke-width:0.16px" transform="rotate(-45 489.60 109.10)">2014</text>
<line x1="493.92" y1="100.80" x2="493.92" y2="102.80" stroke="#555" stroke-width="0.7"/>
<line x1="498.28" y1="100.80" x2="498.28" y2="102.00" stroke="#555" stroke-width="0.7"/>
<text x="498.32" y="109.10" font-size="5.6" text-anchor="end" style="stroke-width:0.16px" transform="rotate(-45 498.32 109.10)">2015</text>
<line x1="502.64" y1="100.80" x2="502.64" y2="102.80" stroke="#555" stroke-width="0.7"/>
<line x1="507.00" y1="100.80" x2="507.00" y2="102.00" stroke="#555" stroke-width="0.7"/>
<text x="507.04" y="109.10" font-size="5.6" text-anchor="end" style="stroke-width:0.16px" transform="rotate(-45 507.04 109.10)">2016</text>
<line x1="511.36" y1="100.80" x2="511.36" y2="102.80" stroke="#555" stroke-width="0.7"/>
<line x1="515.72" y1="100.80" x2="515.72" y2="102.00" stroke="#555" stroke-width="0.7"/>
<text x="515.76" y="109.10" font-size="5.6" text-anchor="end" style="stroke-width:0.16px" transform="rotate(-45 515.76 109.10)">2017</text>
<line x1="520.08" y1="100.80" x2="520.08" y2="102.80" stroke="#555" stroke-width="0.7"/>
<line x1="524.44" y1="100.80" x2="524.44" y2="102.00" stroke="#555" stroke-width="0.7"/>
<text x="524.48" y="109.10" font-size="5.6" text-anchor="end" style="stroke-width:0.16px" transform="rotate(-45 524.48 109.10)">2018</text>
<line x1="528.80" y1="100.80" x2="528.80" y2="102.80" stroke="#555" stroke-width="0.7"/>
<line x1="533.16" y1="100.80" x2="533.16" y2="102.00" stroke="#555" stroke-width="0.7"/>
<text x="533.20" y="109.10" font-size="5.6" text-anchor="end" style="stroke-width:0.16px" transform="rotate(-45 533.20 109.10)">2019</text>
<line x1="537.52" y1="100.80" x2="537.52" y2="102.80" stroke="#555" stroke-width="0.7"/>
<text x="541.92" y="109.10" font-size="5.6" text-anchor="end" style="stroke-width:0.16px" transform="rotate(-45 541.92 109.10)">2020</text>
<text x="461.20" y="122.4" font-size="6.7" text-anchor="middle">Year</text>
<text x="371.80" y="53.90" font-size="7.0" text-anchor="middle" transform="rotate(-90 371.80 53.90)">Correlated coefficients</text>
<line x1="388.50" y1="84.60" x2="402.10" y2="84.60" stroke="#444444" stroke-width="0.85"/>
<rect x="393.70" y="83.00" width="3.20" height="3.20" fill="#2b2b2b"/>
<text x="403.70" y="86.62" font-size="6.3">( Growing City )</text>
<line x1="388.50" y1="92.30" x2="402.10" y2="92.30" stroke="#2a6ae8" stroke-width="0.85"/>
<path d="M395.30 90.32L397.28 93.69L393.32 93.69Z" fill="#1f5fe6"/>
<text x="403.70" y="94.32" font-size="6.3">( Declining City )</text>
<line x1="452.20" y1="84.60" x2="466.40" y2="84.60" stroke="#f03a3a" stroke-width="0.85"/>
<circle cx="459.30" cy="84.60" r="1.75" fill="#f01e1e"/>
<text x="468.20" y="86.62" font-size="6.3">( Mature City )</text>
<line x1="452.20" y1="92.30" x2="466.40" y2="92.30" stroke="#24a052" stroke-width="0.85"/>
<path d="M459.30 94.28L461.28 90.91L457.32 90.91Z" fill="#1a9a4a"/>
<text x="468.20" y="94.32" font-size="6.3" textLength="51.82" lengthAdjust="spacingAndGlyphs">( Regenerative City )</text>
<text x="533.00" y="98.00" font-size="11.5">c</text>
<polyline points="35.25,154.40 44.09,160.60 52.93,170.50 61.77,179.00 70.61,183.40 79.45,183.40 88.29,183.40 97.13,179.00 105.97,180.40 114.81,184.80 123.65,184.10 132.49,183.70 141.33,181.90 150.17,191.40 159.01,184.40 167.85,180.80" fill="none" stroke="#444444" stroke-width="0.85" stroke-linejoin="round"/>
<polyline points="35.25,169.20 44.09,167.90 52.93,170.80 61.77,172.20 70.61,174.20 79.45,169.70 88.29,169.20 97.13,169.20 105.97,170.90 114.81,168.30 123.65,166.50 132.49,161.00 141.33,157.70 150.17,158.10 159.01,168.00 167.85,151.80" fill="none" stroke="#f03a3a" stroke-width="0.85" stroke-linejoin="round"/>
<polyline points="35.25,151.40 44.09,151.60 52.93,152.40 61.77,157.60 70.61,164.00 79.45,161.40 88.29,164.00 97.13,168.60 105.97,162.50 114.81,156.60 123.65,149.60 132.49,156.60 141.33,146.70 150.17,149.30 159.01,146.70 167.85,145.60" fill="none" stroke="#2a6ae8" stroke-width="0.85" stroke-linejoin="round"/>
<polyline points="35.25,142.00 44.09,145.00 52.93,145.40 61.77,144.60 70.61,148.00 79.45,148.60 88.29,148.40 97.13,152.00 105.97,150.70 114.81,150.70 123.65,145.60 132.49,144.70 141.33,142.70 150.17,141.90 159.01,137.20 167.85,140.50" fill="none" stroke="#24a052" stroke-width="0.85" stroke-linejoin="round"/>
<rect x="33.65" y="152.80" width="3.20" height="3.20" fill="#2b2b2b"/>
<rect x="42.49" y="159.00" width="3.20" height="3.20" fill="#2b2b2b"/>
<rect x="51.33" y="168.90" width="3.20" height="3.20" fill="#2b2b2b"/>
<rect x="60.17" y="177.40" width="3.20" height="3.20" fill="#2b2b2b"/>
<rect x="69.01" y="181.80" width="3.20" height="3.20" fill="#2b2b2b"/>
<rect x="77.85" y="181.80" width="3.20" height="3.20" fill="#2b2b2b"/>
<rect x="86.69" y="181.80" width="3.20" height="3.20" fill="#2b2b2b"/>
<rect x="95.53" y="177.40" width="3.20" height="3.20" fill="#2b2b2b"/>
<rect x="104.37" y="178.80" width="3.20" height="3.20" fill="#2b2b2b"/>
<rect x="113.21" y="183.20" width="3.20" height="3.20" fill="#2b2b2b"/>
<rect x="122.05" y="182.50" width="3.20" height="3.20" fill="#2b2b2b"/>
<rect x="130.89" y="182.10" width="3.20" height="3.20" fill="#2b2b2b"/>
<rect x="139.73" y="180.30" width="3.20" height="3.20" fill="#2b2b2b"/>
<rect x="148.57" y="189.80" width="3.20" height="3.20" fill="#2b2b2b"/>
<rect x="157.41" y="182.80" width="3.20" height="3.20" fill="#2b2b2b"/>
<rect x="166.25" y="179.20" width="3.20" height="3.20" fill="#2b2b2b"/>
<circle cx="35.25" cy="169.20" r="1.75" fill="#f01e1e"/>
<circle cx="44.09" cy="167.90" r="1.75" fill="#f01e1e"/>
<circle cx="52.93" cy="170.80" r="1.75" fill="#f01e1e"/>
<circle cx="61.77" cy="172.20" r="1.75" fill="#f01e1e"/>
<circle cx="70.61" cy="174.20" r="1.75" fill="#f01e1e"/>
<circle cx="79.45" cy="169.70" r="1.75" fill="#f01e1e"/>
<circle cx="88.29" cy="169.20" r="1.75" fill="#f01e1e"/>
<circle cx="97.13" cy="169.20" r="1.75" fill="#f01e1e"/>
<circle cx="105.97" cy="170.90" r="1.75" fill="#f01e1e"/>
<circle cx="114.81" cy="168.30" r="1.75" fill="#f01e1e"/>
<circle cx="123.65" cy="166.50" r="1.75" fill="#f01e1e"/>
<circle cx="132.49" cy="161.00" r="1.75" fill="#f01e1e"/>
<circle cx="141.33" cy="157.70" r="1.75" fill="#f01e1e"/>
<circle cx="150.17" cy="158.10" r="1.75" fill="#f01e1e"/>
<circle cx="159.01" cy="168.00" r="1.75" fill="#f01e1e"/>
<circle cx="167.85" cy="151.80" r="1.75" fill="#f01e1e"/>
<path d="M35.25 149.42L37.23 152.79L33.27 152.79Z" fill="#1f5fe6"/>
<path d="M44.09 149.62L46.07 152.99L42.11 152.99Z" fill="#1f5fe6"/>
<path d="M52.93 150.42L54.91 153.79L50.95 153.79Z" fill="#1f5fe6"/>
<path d="M61.77 155.62L63.75 158.99L59.79 158.99Z" fill="#1f5fe6"/>
<path d="M70.61 162.02L72.59 165.39L68.63 165.39Z" fill="#1f5fe6"/>
<path d="M79.45 159.42L81.43 162.79L77.47 162.79Z" fill="#1f5fe6"/>
<path d="M88.29 162.02L90.27 165.39L86.31 165.39Z" fill="#1f5fe6"/>
<path d="M97.13 166.62L99.11 169.99L95.15 169.99Z" fill="#1f5fe6"/>
<path d="M105.97 160.52L107.95 163.89L103.99 163.89Z" fill="#1f5fe6"/>
<path d="M114.81 154.62L116.79 157.99L112.83 157.99Z" fill="#1f5fe6"/>
<path d="M123.65 147.62L125.63 150.99L121.67 150.99Z" fill="#1f5fe6"/>
<path d="M132.49 154.62L134.47 157.99L130.51 157.99Z" fill="#1f5fe6"/>
<path d="M141.33 144.72L143.31 148.09L139.35 148.09Z" fill="#1f5fe6"/>
<path d="M150.17 147.32L152.15 150.69L148.19 150.69Z" fill="#1f5fe6"/>
<path d="M159.01 144.72L160.99 148.09L157.03 148.09Z" fill="#1f5fe6"/>
<path d="M167.85 143.62L169.83 146.99L165.87 146.99Z" fill="#1f5fe6"/>
<path d="M35.25 143.98L37.23 140.61L33.27 140.61Z" fill="#1a9a4a"/>
<path d="M44.09 146.98L46.07 143.61L42.11 143.61Z" fill="#1a9a4a"/>
<path d="M52.93 147.38L54.91 144.01L50.95 144.01Z" fill="#1a9a4a"/>
<path d="M61.77 146.58L63.75 143.21L59.79 143.21Z" fill="#1a9a4a"/>
<path d="M70.61 149.98L72.59 146.61L68.63 146.61Z" fill="#1a9a4a"/>
<path d="M79.45 150.58L81.43 147.21L77.47 147.21Z" fill="#1a9a4a"/>
<path d="M88.29 150.38L90.27 147.01L86.31 147.01Z" fill="#1a9a4a"/>
<path d="M97.13 153.98L99.11 150.61L95.15 150.61Z" fill="#1a9a4a"/>
<path d="M105.97 152.68L107.95 149.31L103.99 149.31Z" fill="#1a9a4a"/>
<path d="M114.81 152.68L116.79 149.31L112.83 149.31Z" fill="#1a9a4a"/>
<path d="M123.65 147.58L125.63 144.21L121.67 144.21Z" fill="#1a9a4a"/>
<path d="M132.49 146.68L134.47 143.31L130.51 143.31Z" fill="#1a9a4a"/>
<path d="M141.33 144.68L143.31 141.31L139.35 141.31Z" fill="#1a9a4a"/>
<path d="M150.17 143.88L152.15 140.51L148.19 140.51Z" fill="#1a9a4a"/>
<path d="M159.01 139.18L160.99 135.81L157.03 135.81Z" fill="#1a9a4a"/>
<path d="M167.85 142.48L169.83 139.11L165.87 139.11Z" fill="#1a9a4a"/>
<rect x="22.40" y="127.90" width="158.80" height="95.00" fill="none" stroke="#7a7a7a" stroke-width="1.1"/>
<line x1="21.20" y1="222.90" x2="22.40" y2="222.90" stroke="#555" stroke-width="0.7"/>
<line x1="20.40" y1="216.57" x2="22.40" y2="216.57" stroke="#555" stroke-width="0.7"/>
<text x="19.00" y="218.54" font-size="5.8" text-anchor="end">–<tspan dx="-0.7">0.6</tspan></text>
<line x1="21.20" y1="210.23" x2="22.40" y2="210.23" stroke="#555" stroke-width="0.7"/>
<line x1="20.40" y1="203.90" x2="22.40" y2="203.90" stroke="#555" stroke-width="0.7"/>
<text x="19.00" y="205.87" font-size="5.8" text-anchor="end">–<tspan dx="-0.7">0.4</tspan></text>
<line x1="21.20" y1="197.57" x2="22.40" y2="197.57" stroke="#555" stroke-width="0.7"/>
<line x1="20.40" y1="191.23" x2="22.40" y2="191.23" stroke="#555" stroke-width="0.7"/>
<text x="19.00" y="193.21" font-size="5.8" text-anchor="end">–<tspan dx="-0.7">0.2</tspan></text>
<line x1="21.20" y1="184.90" x2="22.40" y2="184.90" stroke="#555" stroke-width="0.7"/>
<line x1="20.40" y1="178.57" x2="22.40" y2="178.57" stroke="#555" stroke-width="0.7"/>
<text x="19.00" y="180.54" font-size="5.8" text-anchor="end">0.0</text>
<line x1="21.20" y1="172.23" x2="22.40" y2="172.23" stroke="#555" stroke-width="0.7"/>
<line x1="20.40" y1="165.90" x2="22.40" y2="165.90" stroke="#555" stroke-width="0.7"/>
<text x="19.00" y="167.87" font-size="5.8" text-anchor="end">0.2</text>
<line x1="21.20" y1="159.57" x2="22.40" y2="159.57" stroke="#555" stroke-width="0.7"/>
<line x1="20.40" y1="153.23" x2="22.40" y2="153.23" stroke="#555" stroke-width="0.7"/>
<text x="19.00" y="155.21" font-size="5.8" text-anchor="end">0.4</text>
<line x1="21.20" y1="146.90" x2="22.40" y2="146.90" stroke="#555" stroke-width="0.7"/>
<line x1="20.40" y1="140.57" x2="22.40" y2="140.57" stroke="#555" stroke-width="0.7"/>
<text x="19.00" y="142.54" font-size="5.8" text-anchor="end">0.6</text>
<line x1="21.20" y1="134.23" x2="22.40" y2="134.23" stroke="#555" stroke-width="0.7"/>
<line x1="20.40" y1="127.90" x2="22.40" y2="127.90" stroke="#555" stroke-width="0.7"/>
<text x="19.00" y="129.87" font-size="5.8" text-anchor="end">0.8</text>
<line x1="26.41" y1="222.90" x2="26.41" y2="224.90" stroke="#555" stroke-width="0.7"/>
<line x1="30.83" y1="222.90" x2="30.83" y2="224.10" stroke="#555" stroke-width="0.7"/>
<text x="30.81" y="231.20" font-size="5.6" text-anchor="end" style="stroke-width:0.16px" transform="rotate(-45 30.81 231.20)">2003</text>
<line x1="35.25" y1="222.90" x2="35.25" y2="224.90" stroke="#555" stroke-width="0.7"/>
<line x1="39.67" y1="222.90" x2="39.67" y2="224.10" stroke="#555" stroke-width="0.7"/>
<text x="39.65" y="231.20" font-size="5.6" text-anchor="end" style="stroke-width:0.16px" transform="rotate(-45 39.65 231.20)">2004</text>
<line x1="44.09" y1="222.90" x2="44.09" y2="224.90" stroke="#555" stroke-width="0.7"/>
<line x1="48.51" y1="222.90" x2="48.51" y2="224.10" stroke="#555" stroke-width="0.7"/>
<text x="48.49" y="231.20" font-size="5.6" text-anchor="end" style="stroke-width:0.16px" transform="rotate(-45 48.49 231.20)">2005</text>
<line x1="52.93" y1="222.90" x2="52.93" y2="224.90" stroke="#555" stroke-width="0.7"/>
<line x1="57.35" y1="222.90" x2="57.35" y2="224.10" stroke="#555" stroke-width="0.7"/>
<text x="57.33" y="231.20" font-size="5.6" text-anchor="end" style="stroke-width:0.16px" transform="rotate(-45 57.33 231.20)">2006</text>
<line x1="61.77" y1="222.90" x2="61.77" y2="224.90" stroke="#555" stroke-width="0.7"/>
<line x1="66.19" y1="222.90" x2="66.19" y2="224.10" stroke="#555" stroke-width="0.7"/>
<text x="66.17" y="231.20" font-size="5.6" text-anchor="end" style="stroke-width:0.16px" transform="rotate(-45 66.17 231.20)">2007</text>
<line x1="70.61" y1="222.90" x2="70.61" y2="224.90" stroke="#555" stroke-width="0.7"/>
<line x1="75.03" y1="222.90" x2="75.03" y2="224.10" stroke="#555" stroke-width="0.7"/>
<text x="75.01" y="231.20" font-size="5.6" text-anchor="end" style="stroke-width:0.16px" transform="rotate(-45 75.01 231.20)">2008</text>
<line x1="79.45" y1="222.90" x2="79.45" y2="224.90" stroke="#555" stroke-width="0.7"/>
<line x1="83.87" y1="222.90" x2="83.87" y2="224.10" stroke="#555" stroke-width="0.7"/>
<text x="83.85" y="231.20" font-size="5.6" text-anchor="end" style="stroke-width:0.16px" transform="rotate(-45 83.85 231.20)">2009</text>
<line x1="88.29" y1="222.90" x2="88.29" y2="224.90" stroke="#555" stroke-width="0.7"/>
<line x1="92.71" y1="222.90" x2="92.71" y2="224.10" stroke="#555" stroke-width="0.7"/>
<text x="92.69" y="231.20" font-size="5.6" text-anchor="end" style="stroke-width:0.16px" transform="rotate(-45 92.69 231.20)">2010</text>
<line x1="97.13" y1="222.90" x2="97.13" y2="224.90" stroke="#555" stroke-width="0.7"/>
<line x1="101.55" y1="222.90" x2="101.55" y2="224.10" stroke="#555" stroke-width="0.7"/>
<text x="101.53" y="231.20" font-size="5.6" text-anchor="end" style="stroke-width:0.16px" transform="rotate(-45 101.53 231.20)">2011</text>
<line x1="105.97" y1="222.90" x2="105.97" y2="224.90" stroke="#555" stroke-width="0.7"/>
<line x1="110.39" y1="222.90" x2="110.39" y2="224.10" stroke="#555" stroke-width="0.7"/>
<text x="110.37" y="231.20" font-size="5.6" text-anchor="end" style="stroke-width:0.16px" transform="rotate(-45 110.37 231.20)">2012</text>
<line x1="114.81" y1="222.90" x2="114.81" y2="224.90" stroke="#555" stroke-width="0.7"/>
<line x1="119.23" y1="222.90" x2="119.23" y2="224.10" stroke="#555" stroke-width="0.7"/>
<text x="119.21" y="231.20" font-size="5.6" text-anchor="end" style="stroke-width:0.16px" transform="rotate(-45 119.21 231.20)">2013</text>
<line x1="123.65" y1="222.90" x2="123.65" y2="224.90" stroke="#555" stroke-width="0.7"/>
<line x1="128.07" y1="222.90" x2="128.07" y2="224.10" stroke="#555" stroke-width="0.7"/>
<text x="128.05" y="231.20" font-size="5.6" text-anchor="end" style="stroke-width:0.16px" transform="rotate(-45 128.05 231.20)">2014</text>
<line x1="132.49" y1="222.90" x2="132.49" y2="224.90" stroke="#555" stroke-width="0.7"/>
<line x1="136.91" y1="222.90" x2="136.91" y2="224.10" stroke="#555" stroke-width="0.7"/>
<text x="136.89" y="231.20" font-size="5.6" text-anchor="end" style="stroke-width:0.16px" transform="rotate(-45 136.89 231.20)">2015</text>
<line x1="141.33" y1="222.90" x2="141.33" y2="224.90" stroke="#555" stroke-width="0.7"/>
<line x1="145.75" y1="222.90" x2="145.75" y2="224.10" stroke="#555" stroke-width="0.7"/>
<text x="145.73" y="231.20" font-size="5.6" text-anchor="end" style="stroke-width:0.16px" transform="rotate(-45 145.73 231.20)">2016</text>
<line x1="150.17" y1="222.90" x2="150.17" y2="224.90" stroke="#555" stroke-width="0.7"/>
<line x1="154.59" y1="222.90" x2="154.59" y2="224.10" stroke="#555" stroke-width="0.7"/>
<text x="154.57" y="231.20" font-size="5.6" text-anchor="end" style="stroke-width:0.16px" transform="rotate(-45 154.57 231.20)">2017</text>
<line x1="159.01" y1="222.90" x2="159.01" y2="224.90" stroke="#555" stroke-width="0.7"/>
<line x1="163.43" y1="222.90" x2="163.43" y2="224.10" stroke="#555" stroke-width="0.7"/>
<text x="163.41" y="231.20" font-size="5.6" text-anchor="end" style="stroke-width:0.16px" transform="rotate(-45 163.41 231.20)">2018</text>
<line x1="167.85" y1="222.90" x2="167.85" y2="224.90" stroke="#555" stroke-width="0.7"/>
<line x1="172.27" y1="222.90" x2="172.27" y2="224.10" stroke="#555" stroke-width="0.7"/>
<text x="172.25" y="231.20" font-size="5.6" text-anchor="end" style="stroke-width:0.16px" transform="rotate(-45 172.25 231.20)">2019</text>
<line x1="176.69" y1="222.90" x2="176.69" y2="224.90" stroke="#555" stroke-width="0.7"/>
<text x="181.09" y="231.20" font-size="5.6" text-anchor="end" style="stroke-width:0.16px" transform="rotate(-45 181.09 231.20)">2020</text>
<text x="96.35" y="245.8" font-size="6.7" text-anchor="middle">Year</text>
<text x="6.20" y="174.10" font-size="6.95" text-anchor="middle" transform="rotate(-90 6.20 174.10)">Correlated coefficients</text>
<line x1="25.10" y1="205.60" x2="38.70" y2="205.60" stroke="#444444" stroke-width="0.85"/>
<rect x="30.30" y="204.00" width="3.20" height="3.20" fill="#2b2b2b"/>
<text x="40.50" y="207.62" font-size="6.3">( Growing City )</text>
<line x1="25.10" y1="212.90" x2="38.70" y2="212.90" stroke="#2a6ae8" stroke-width="0.85"/>
<path d="M31.90 210.92L33.88 214.29L29.92 214.29Z" fill="#1f5fe6"/>
<text x="40.50" y="214.92" font-size="6.3">( Declining City )</text>
<line x1="89.00" y1="205.60" x2="102.70" y2="205.60" stroke="#f03a3a" stroke-width="0.85"/>
<circle cx="95.85" cy="205.60" r="1.75" fill="#f01e1e"/>
<text x="104.00" y="207.62" font-size="6.3">( Mature City )</text>
<line x1="89.00" y1="212.90" x2="102.70" y2="212.90" stroke="#24a052" stroke-width="0.85"/>
<path d="M95.85 214.88L97.83 211.51L93.87 211.51Z" fill="#1a9a4a"/>
<text x="104.00" y="214.92" font-size="6.3" textLength="51.82" lengthAdjust="spacingAndGlyphs">( Regenerative City )</text>
<text x="172.80" y="221.00" font-size="11">d</text>
<polyline points="218.10,137.50 226.92,156.20 235.74,136.40 244.56,144.40 253.38,150.30 262.20,146.60 271.02,134.40 279.84,186.20 288.66,139.30 297.48,164.00 306.30,144.50 315.12,135.90 323.94,139.30 332.76,144.50 341.58,144.50 350.40,146.30" fill="none" stroke="#444444" stroke-width="0.85" stroke-linejoin="round"/>
<polyline points="218.10,141.90 226.92,140.40 235.74,138.60 244.56,140.00 253.38,138.60 262.20,149.90 271.02,139.30 279.84,180.20 288.66,138.50 297.48,151.00 306.30,140.60 315.12,142.70 323.94,140.60 332.76,143.20 341.58,154.20 350.40,162.70" fill="none" stroke="#f03a3a" stroke-width="0.85" stroke-linejoin="round"/>
<polyline points="218.10,174.00 226.92,173.80 235.74,173.00 244.56,173.40 253.38,169.00 262.20,170.80 271.02,169.60 279.84,166.90 288.66,169.20 297.48,173.70 306.30,172.60 315.12,173.20 323.94,167.20 332.76,165.90 341.58,173.20 350.40,157.00" fill="none" stroke="#2a6ae8" stroke-width="0.85" stroke-linejoin="round"/>
<polyline points="218.10,130.50 226.92,130.50 235.74,131.60 244.56,131.60 253.38,131.60 262.20,136.40 271.02,130.50 279.84,132.00 288.66,131.50 297.48,132.00 306.30,131.50 315.12,131.50 323.94,132.00 332.76,131.50 341.58,133.30 350.40,146.30" fill="none" stroke="#24a052" stroke-width="0.85" stroke-linejoin="round"/>
<rect x="216.50" y="135.90" width="3.20" height="3.20" fill="#2b2b2b"/>
<rect x="225.32" y="154.60" width="3.20" height="3.20" fill="#2b2b2b"/>
<rect x="234.14" y="134.80" width="3.20" height="3.20" fill="#2b2b2b"/>
<rect x="242.96" y="142.80" width="3.20" height="3.20" fill="#2b2b2b"/>
<rect x="251.78" y="148.70" width="3.20" height="3.20" fill="#2b2b2b"/>
<rect x="260.60" y="145.00" width="3.20" height="3.20" fill="#2b2b2b"/>
<rect x="269.42" y="132.80" width="3.20" height="3.20" fill="#2b2b2b"/>
<rect x="278.24" y="184.60" width="3.20" height="3.20" fill="#2b2b2b"/>
<rect x="287.06" y="137.70" width="3.20" height="3.20" fill="#2b2b2b"/>
<rect x="295.88" y="162.40" width="3.20" height="3.20" fill="#2b2b2b"/>
<rect x="304.70" y="142.90" width="3.20" height="3.20" fill="#2b2b2b"/>
<rect x="313.52" y="134.30" width="3.20" height="3.20" fill="#2b2b2b"/>
<rect x="322.34" y="137.70" width="3.20" height="3.20" fill="#2b2b2b"/>
<rect x="331.16" y="142.90" width="3.20" height="3.20" fill="#2b2b2b"/>
<rect x="339.98" y="142.90" width="3.20" height="3.20" fill="#2b2b2b"/>
<rect x="348.80" y="144.70" width="3.20" height="3.20" fill="#2b2b2b"/>
<circle cx="218.10" cy="141.90" r="1.75" fill="#f01e1e"/>
<circle cx="226.92" cy="140.40" r="1.75" fill="#f01e1e"/>
<circle cx="235.74" cy="138.60" r="1.75" fill="#f01e1e"/>
<circle cx="244.56" cy="140.00" r="1.75" fill="#f01e1e"/>
<circle cx="253.38" cy="138.60" r="1.75" fill="#f01e1e"/>
<circle cx="262.20" cy="149.90" r="1.75" fill="#f01e1e"/>
<circle cx="271.02" cy="139.30" r="1.75" fill="#f01e1e"/>
<circle cx="279.84" cy="180.20" r="1.75" fill="#f01e1e"/>
<circle cx="288.66" cy="138.50" r="1.75" fill="#f01e1e"/>
<circle cx="297.48" cy="151.00" r="1.75" fill="#f01e1e"/>
<circle cx="306.30" cy="140.60" r="1.75" fill="#f01e1e"/>
<circle cx="315.12" cy="142.70" r="1.75" fill="#f01e1e"/>
<circle cx="323.94" cy="140.60" r="1.75" fill="#f01e1e"/>
<circle cx="332.76" cy="143.20" r="1.75" fill="#f01e1e"/>
<circle cx="341.58" cy="154.20" r="1.75" fill="#f01e1e"/>
<circle cx="350.40" cy="162.70" r="1.75" fill="#f01e1e"/>
<path d="M218.10 172.02L220.08 175.39L216.12 175.39Z" fill="#1f5fe6"/>
<path d="M226.92 171.82L228.90 175.19L224.94 175.19Z" fill="#1f5fe6"/>
<path d="M235.74 171.02L237.72 174.39L233.76 174.39Z" fill="#1f5fe6"/>
<path d="M244.56 171.42L246.54 174.79L242.58 174.79Z" fill="#1f5fe6"/>
<path d="M253.38 167.02L255.36 170.39L251.40 170.39Z" fill="#1f5fe6"/>
<path d="M262.20 168.82L264.18 172.19L260.22 172.19Z" fill="#1f5fe6"/>
<path d="M271.02 167.62L273.00 170.99L269.04 170.99Z" fill="#1f5fe6"/>
<path d="M279.84 164.92L281.82 168.29L277.86 168.29Z" fill="#1f5fe6"/>
<path d="M288.66 167.22L290.64 170.59L286.68 170.59Z" fill="#1f5fe6"/>
<path d="M297.48 171.72L299.46 175.09L295.50 175.09Z" fill="#1f5fe6"/>
<path d="M306.30 170.62L308.28 173.99L304.32 173.99Z" fill="#1f5fe6"/>
<path d="M315.12 171.22L317.10 174.59L313.14 174.59Z" fill="#1f5fe6"/>
<path d="M323.94 165.22L325.92 168.59L321.96 168.59Z" fill="#1f5fe6"/>
<path d="M332.76 163.92L334.74 167.29L330.78 167.29Z" fill="#1f5fe6"/>
<path d="M341.58 171.22L343.56 174.59L339.60 174.59Z" fill="#1f5fe6"/>
<path d="M350.40 155.02L352.38 158.39L348.42 158.39Z" fill="#1f5fe6"/>
<path d="M218.10 132.48L220.08 129.11L216.12 129.11Z" fill="#1a9a4a"/>
<path d="M226.92 132.48L228.90 129.11L224.94 129.11Z" fill="#1a9a4a"/>
<path d="M235.74 133.58L237.72 130.21L233.76 130.21Z" fill="#1a9a4a"/>
<path d="M244.56 133.58L246.54 130.21L242.58 130.21Z" fill="#1a9a4a"/>
<path d="M253.38 133.58L255.36 130.21L251.40 130.21Z" fill="#1a9a4a"/>
<path d="M262.20 138.38L264.18 135.01L260.22 135.01Z" fill="#1a9a4a"/>
<path d="M271.02 132.48L273.00 129.11L269.04 129.11Z" fill="#1a9a4a"/>
<path d="M279.84 133.98L281.82 130.61L277.86 130.61Z" fill="#1a9a4a"/>
<path d="M288.66 133.48L290.64 130.11L286.68 130.11Z" fill="#1a9a4a"/>
<path d="M297.48 133.98L299.46 130.61L295.50 130.61Z" fill="#1a9a4a"/>
<path d="M306.30 133.48L308.28 130.11L304.32 130.11Z" fill="#1a9a4a"/>
<path d="M315.12 133.48L317.10 130.11L313.14 130.11Z" fill="#1a9a4a"/>
<path d="M323.94 133.98L325.92 130.61L321.96 130.61Z" fill="#1a9a4a"/>
<path d="M332.76 133.48L334.74 130.11L330.78 130.11Z" fill="#1a9a4a"/>
<path d="M341.58 135.28L343.56 131.91L339.60 131.91Z" fill="#1a9a4a"/>
<path d="M350.40 148.28L352.38 144.91L348.42 144.91Z" fill="#1a9a4a"/>
<rect x="204.40" y="129.00" width="159.20" height="95.00" fill="none" stroke="#7a7a7a" stroke-width="1.1"/>
<line x1="203.20" y1="224.00" x2="204.40" y2="224.00" stroke="#555" stroke-width="0.7"/>
<line x1="202.40" y1="214.50" x2="204.40" y2="214.50" stroke="#555" stroke-width="0.7"/>
<text x="201.00" y="216.47" font-size="5.8" text-anchor="end">–<tspan dx="-0.7">0.8</tspan></text>
<line x1="203.20" y1="205.00" x2="204.40" y2="205.00" stroke="#555" stroke-width="0.7"/>
<line x1="202.40" y1="195.50" x2="204.40" y2="195.50" stroke="#555" stroke-width="0.7"/>
<text x="201.00" y="197.47" font-size="5.8" text-anchor="end">–<tspan dx="-0.7">0.4</tspan></text>
<line x1="203.20" y1="186.00" x2="204.40" y2="186.00" stroke="#555" stroke-width="0.7"/>
<line x1="202.40" y1="176.50" x2="204.40" y2="176.50" stroke="#555" stroke-width="0.7"/>
<text x="201.00" y="178.47" font-size="5.8" text-anchor="end">0.0</text>
<line x1="203.20" y1="167.00" x2="204.40" y2="167.00" stroke="#555" stroke-width="0.7"/>
<line x1="202.40" y1="157.50" x2="204.40" y2="157.50" stroke="#555" stroke-width="0.7"/>
<text x="201.00" y="159.47" font-size="5.8" text-anchor="end">0.4</text>
<line x1="203.20" y1="148.00" x2="204.40" y2="148.00" stroke="#555" stroke-width="0.7"/>
<line x1="202.40" y1="138.50" x2="204.40" y2="138.50" stroke="#555" stroke-width="0.7"/>
<text x="201.00" y="140.47" font-size="5.8" text-anchor="end">0.8</text>
<line x1="203.20" y1="129.00" x2="204.40" y2="129.00" stroke="#555" stroke-width="0.7"/>
<line x1="209.28" y1="224.00" x2="209.28" y2="226.00" stroke="#555" stroke-width="0.7"/>
<line x1="213.69" y1="224.00" x2="213.69" y2="225.20" stroke="#555" stroke-width="0.7"/>
<text x="213.68" y="232.30" font-size="5.6" text-anchor="end" style="stroke-width:0.16px" transform="rotate(-45 213.68 232.30)">2003</text>
<line x1="218.10" y1="224.00" x2="218.10" y2="226.00" stroke="#555" stroke-width="0.7"/>
<line x1="222.51" y1="224.00" x2="222.51" y2="225.20" stroke="#555" stroke-width="0.7"/>
<text x="222.50" y="232.30" font-size="5.6" text-anchor="end" style="stroke-width:0.16px" transform="rotate(-45 222.50 232.30)">2004</text>
<line x1="226.92" y1="224.00" x2="226.92" y2="226.00" stroke="#555" stroke-width="0.7"/>
<line x1="231.33" y1="224.00" x2="231.33" y2="225.20" stroke="#555" stroke-width="0.7"/>
<text x="231.32" y="232.30" font-size="5.6" text-anchor="end" style="stroke-width:0.16px" transform="rotate(-45 231.32 232.30)">2005</text>
<line x1="235.74" y1="224.00" x2="235.74" y2="226.00" stroke="#555" stroke-width="0.7"/>
<line x1="240.15" y1="224.00" x2="240.15" y2="225.20" stroke="#555" stroke-width="0.7"/>
<text x="240.14" y="232.30" font-size="5.6" text-anchor="end" style="stroke-width:0.16px" transform="rotate(-45 240.14 232.30)">2006</text>
<line x1="244.56" y1="224.00" x2="244.56" y2="226.00" stroke="#555" stroke-width="0.7"/>
<line x1="248.97" y1="224.00" x2="248.97" y2="225.20" stroke="#555" stroke-width="0.7"/>
<text x="248.96" y="232.30" font-size="5.6" text-anchor="end" style="stroke-width:0.16px" transform="rotate(-45 248.96 232.30)">2007</text>
<line x1="253.38" y1="224.00" x2="253.38" y2="226.00" stroke="#555" stroke-width="0.7"/>
<line x1="257.79" y1="224.00" x2="257.79" y2="225.20" stroke="#555" stroke-width="0.7"/>
<text x="257.78" y="232.30" font-size="5.6" text-anchor="end" style="stroke-width:0.16px" transform="rotate(-45 257.78 232.30)">2008</text>
<line x1="262.20" y1="224.00" x2="262.20" y2="226.00" stroke="#555" stroke-width="0.7"/>
<line x1="266.61" y1="224.00" x2="266.61" y2="225.20" stroke="#555" stroke-width="0.7"/>
<text x="266.60" y="232.30" font-size="5.6" text-anchor="end" style="stroke-width:0.16px" transform="rotate(-45 266.60 232.30)">2009</text>
<line x1="271.02" y1="224.00" x2="271.02" y2="226.00" stroke="#555" stroke-width="0.7"/>
<line x1="275.43" y1="224.00" x2="275.43" y2="225.20" stroke="#555" stroke-width="0.7"/>
<text x="275.42" y="232.30" font-size="5.6" text-anchor="end" style="stroke-width:0.16px" transform="rotate(-45 275.42 232.30)">2010</text>
<line x1="279.84" y1="224.00" x2="279.84" y2="226.00" stroke="#555" stroke-width="0.7"/>
<line x1="284.25" y1="224.00" x2="284.25" y2="225.20" stroke="#555" stroke-width="0.7"/>
<text x="284.24" y="232.30" font-size="5.6" text-anchor="end" style="stroke-width:0.16px" transform="rotate(-45 284.24 232.30)">2011</text>
<line x1="288.66" y1="224.00" x2="288.66" y2="226.00" stroke="#555" stroke-width="0.7"/>
<line x1="293.07" y1="224.00" x2="293.07" y2="225.20" stroke="#555" stroke-width="0.7"/>
<text x="293.06" y="232.30" font-size="5.6" text-anchor="end" style="stroke-width:0.16px" transform="rotate(-45 293.06 232.30)">2012</text>
<line x1="297.48" y1="224.00" x2="297.48" y2="226.00" stroke="#555" stroke-width="0.7"/>
<line x1="301.89" y1="224.00" x2="301.89" y2="225.20" stroke="#555" stroke-width="0.7"/>
<text x="301.88" y="232.30" font-size="5.6" text-anchor="end" style="stroke-width:0.16px" transform="rotate(-45 301.88 232.30)">2013</text>
<line x1="306.30" y1="224.00" x2="306.30" y2="226.00" stroke="#555" stroke-width="0.7"/>
<line x1="310.71" y1="224.00" x2="310.71" y2="225.20" stroke="#555" stroke-width="0.7"/>
<text x="310.70" y="232.30" font-size="5.6" text-anchor="end" style="stroke-width:0.16px" transform="rotate(-45 310.70 232.30)">2014</text>
<line x1="315.12" y1="224.00" x2="315.12" y2="226.00" stroke="#555" stroke-width="0.7"/>
<line x1="319.53" y1="224.00" x2="319.53" y2="225.20" stroke="#555" stroke-width="0.7"/>
<text x="319.52" y="232.30" font-size="5.6" text-anchor="end" style="stroke-width:0.16px" transform="rotate(-45 319.52 232.30)">2015</text>
<line x1="323.94" y1="224.00" x2="323.94" y2="226.00" stroke="#555" stroke-width="0.7"/>
<line x1="328.35" y1="224.00" x2="328.35" y2="225.20" stroke="#555" stroke-width="0.7"/>
<text x="328.34" y="232.30" font-size="5.6" text-anchor="end" style="stroke-width:0.16px" transform="rotate(-45 328.34 232.30)">2016</text>
<line x1="332.76" y1="224.00" x2="332.76" y2="226.00" stroke="#555" stroke-width="0.7"/>
<line x1="337.17" y1="224.00" x2="337.17" y2="225.20" stroke="#555" stroke-width="0.7"/>
<text x="337.16" y="232.30" font-size="5.6" text-anchor="end" style="stroke-width:0.16px" transform="rotate(-45 337.16 232.30)">2017</text>
<line x1="341.58" y1="224.00" x2="341.58" y2="226.00" stroke="#555" stroke-width="0.7"/>
<line x1="345.99" y1="224.00" x2="345.99" y2="225.20" stroke="#555" stroke-width="0.7"/>
<text x="345.98" y="232.30" font-size="5.6" text-anchor="end" style="stroke-width:0.16px" transform="rotate(-45 345.98 232.30)">2018</text>
<line x1="350.40" y1="224.00" x2="350.40" y2="226.00" stroke="#555" stroke-width="0.7"/>
<line x1="354.81" y1="224.00" x2="354.81" y2="225.20" stroke="#555" stroke-width="0.7"/>
<text x="354.80" y="232.30" font-size="5.6" text-anchor="end" style="stroke-width:0.16px" transform="rotate(-45 354.80 232.30)">2019</text>
<line x1="359.22" y1="224.00" x2="359.22" y2="226.00" stroke="#555" stroke-width="0.7"/>
<text x="363.62" y="232.30" font-size="5.6" text-anchor="end" style="stroke-width:0.16px" transform="rotate(-45 363.62 232.30)">2020</text>
<text x="282.80" y="247.6" font-size="6.7" text-anchor="middle">Year</text>
<text x="189.20" y="179.30" font-size="6.75" text-anchor="middle" transform="rotate(-90 189.20 179.30)">Correlated coefficients</text>
<line x1="207.60" y1="204.20" x2="221.50" y2="204.20" stroke="#444444" stroke-width="0.85"/>
<rect x="212.95" y="202.60" width="3.20" height="3.20" fill="#2b2b2b"/>
<text x="223.30" y="206.22" font-size="6.3">( Growing City )</text>
<line x1="207.60" y1="211.50" x2="221.50" y2="211.50" stroke="#2a6ae8" stroke-width="0.85"/>
<path d="M214.55 209.52L216.53 212.89L212.57 212.89Z" fill="#1f5fe6"/>
<text x="223.30" y="213.52" font-size="6.3">( Declining City )</text>
<line x1="271.80" y1="204.20" x2="285.00" y2="204.20" stroke="#f03a3a" stroke-width="0.85"/>
<circle cx="278.40" cy="204.20" r="1.75" fill="#f01e1e"/>
<text x="286.40" y="206.22" font-size="6.3">( Mature City )</text>
<line x1="271.80" y1="211.50" x2="285.00" y2="211.50" stroke="#24a052" stroke-width="0.85"/>
<path d="M278.40 213.48L280.38 210.11L276.42 210.11Z" fill="#1a9a4a"/>
<text x="286.40" y="213.52" font-size="6.3" textLength="51.82" lengthAdjust="spacingAndGlyphs">( Regenerative City )</text>
<text x="355.70" y="222.50" font-size="11.3">e</text>
<polyline points="398.00,157.30 406.96,150.30 415.92,175.50 424.88,142.60 433.84,161.30 442.80,138.60 451.76,138.20 460.72,158.00 469.68,194.70 478.64,155.80 487.60,136.40 496.56,144.40 505.52,149.60 514.48,145.20 523.44,144.40 532.40,179.50" fill="none" stroke="#444444" stroke-width="0.85" stroke-linejoin="round"/>
<polyline points="398.00,173.90 406.96,179.20 415.92,159.10 424.88,158.40 433.84,157.60 442.80,164.70 451.76,154.70 460.72,168.70 469.68,159.10 478.64,160.60 487.60,166.10 496.56,180.00 505.52,180.80 514.48,161.30 523.44,173.80 532.40,181.00" fill="none" stroke="#f03a3a" stroke-width="0.85" stroke-linejoin="round"/>
<polyline points="398.00,147.40 406.96,182.00 415.92,182.00 424.88,141.00 433.84,144.80 442.80,171.70 451.76,145.90 460.72,146.10 469.68,142.20 478.64,145.20 487.60,149.20 496.56,149.90 505.52,154.00 514.48,153.20 523.44,150.30 532.40,178.40" fill="none" stroke="#2a6ae8" stroke-width="0.85" stroke-linejoin="round"/>
<polyline points="398.00,151.40 406.96,148.10 415.92,150.70 424.88,147.70 433.84,145.20 442.80,138.60 451.76,136.40 460.72,142.00 469.68,136.40 478.64,138.90 487.60,136.40 496.56,139.30 505.52,138.20 514.48,139.30 523.44,140.80 532.40,183.00" fill="none" stroke="#24a052" stroke-width="0.85" stroke-linejoin="round"/>
<rect x="396.40" y="155.70" width="3.20" height="3.20" fill="#2b2b2b"/>
<rect x="405.36" y="148.70" width="3.20" height="3.20" fill="#2b2b2b"/>
<rect x="414.32" y="173.90" width="3.20" height="3.20" fill="#2b2b2b"/>
<rect x="423.28" y="141.00" width="3.20" height="3.20" fill="#2b2b2b"/>
<rect x="432.24" y="159.70" width="3.20" height="3.20" fill="#2b2b2b"/>
<rect x="441.20" y="137.00" width="3.20" height="3.20" fill="#2b2b2b"/>
<rect x="450.16" y="136.60" width="3.20" height="3.20" fill="#2b2b2b"/>
<rect x="459.12" y="156.40" width="3.20" height="3.20" fill="#2b2b2b"/>
<rect x="468.08" y="193.10" width="3.20" height="3.20" fill="#2b2b2b"/>
<rect x="477.04" y="154.20" width="3.20" height="3.20" fill="#2b2b2b"/>
<rect x="486.00" y="134.80" width="3.20" height="3.20" fill="#2b2b2b"/>
<rect x="494.96" y="142.80" width="3.20" height="3.20" fill="#2b2b2b"/>
<rect x="503.92" y="148.00" width="3.20" height="3.20" fill="#2b2b2b"/>
<rect x="512.88" y="143.60" width="3.20" height="3.20" fill="#2b2b2b"/>
<rect x="521.84" y="142.80" width="3.20" height="3.20" fill="#2b2b2b"/>
<rect x="530.80" y="177.90" width="3.20" height="3.20" fill="#2b2b2b"/>
<circle cx="398.00" cy="173.90" r="1.75" fill="#f01e1e"/>
<circle cx="406.96" cy="179.20" r="1.75" fill="#f01e1e"/>
<circle cx="415.92" cy="159.10" r="1.75" fill="#f01e1e"/>
<circle cx="424.88" cy="158.40" r="1.75" fill="#f01e1e"/>
<circle cx="433.84" cy="157.60" r="1.75" fill="#f01e1e"/>
<circle cx="442.80" cy="164.70" r="1.75" fill="#f01e1e"/>
<circle cx="451.76" cy="154.70" r="1.75" fill="#f01e1e"/>
<circle cx="460.72" cy="168.70" r="1.75" fill="#f01e1e"/>
<circle cx="469.68" cy="159.10" r="1.75" fill="#f01e1e"/>
<circle cx="478.64" cy="160.60" r="1.75" fill="#f01e1e"/>
<circle cx="487.60" cy="166.10" r="1.75" fill="#f01e1e"/>
<circle cx="496.56" cy="180.00" r="1.75" fill="#f01e1e"/>
<circle cx="505.52" cy="180.80" r="1.75" fill="#f01e1e"/>
<circle cx="514.48" cy="161.30" r="1.75" fill="#f01e1e"/>
<circle cx="523.44" cy="173.80" r="1.75" fill="#f01e1e"/>
<circle cx="532.40" cy="181.00" r="1.75" fill="#f01e1e"/>
<path d="M398.00 145.42L399.98 148.79L396.02 148.79Z" fill="#1f5fe6"/>
<path d="M406.96 180.02L408.94 183.39L404.98 183.39Z" fill="#1f5fe6"/>
<path d="M415.92 180.02L417.90 183.39L413.94 183.39Z" fill="#1f5fe6"/>
<path d="M424.88 139.02L426.86 142.39L422.90 142.39Z" fill="#1f5fe6"/>
<path d="M433.84 142.82L435.82 146.19L431.86 146.19Z" fill="#1f5fe6"/>
<path d="M442.80 169.72L444.78 173.09L440.82 173.09Z" fill="#1f5fe6"/>
<path d="M451.76 143.92L453.74 147.29L449.78 147.29Z" fill="#1f5fe6"/>
<path d="M460.72 144.12L462.70 147.49L458.74 147.49Z" fill="#1f5fe6"/>
<path d="M469.68 140.22L471.66 143.59L467.70 143.59Z" fill="#1f5fe6"/>
<path d="M478.64 143.22L480.62 146.59L476.66 146.59Z" fill="#1f5fe6"/>
<path d="M487.60 147.22L489.58 150.59L485.62 150.59Z" fill="#1f5fe6"/>
<path d="M496.56 147.92L498.54 151.29L494.58 151.29Z" fill="#1f5fe6"/>
<path d="M505.52 152.02L507.50 155.39L503.54 155.39Z" fill="#1f5fe6"/>
<path d="M514.48 151.22L516.46 154.59L512.50 154.59Z" fill="#1f5fe6"/>
<path d="M523.44 148.32L525.42 151.69L521.46 151.69Z" fill="#1f5fe6"/>
<path d="M532.40 176.42L534.38 179.79L530.42 179.79Z" fill="#1f5fe6"/>
<path d="M398.00 153.38L399.98 150.01L396.02 150.01Z" fill="#1a9a4a"/>
<path d="M406.96 150.08L408.94 146.71L404.98 146.71Z" fill="#1a9a4a"/>
<path d="M415.92 152.68L417.90 149.31L413.94 149.31Z" fill="#1a9a4a"/>
<path d="M424.88 149.68L426.86 146.31L422.90 146.31Z" fill="#1a9a4a"/>
<path d="M433.84 147.18L435.82 143.81L431.86 143.81Z" fill="#1a9a4a"/>
<path d="M442.80 140.58L444.78 137.21L440.82 137.21Z" fill="#1a9a4a"/>
<path d="M451.76 138.38L453.74 135.01L449.78 135.01Z" fill="#1a9a4a"/>
<path d="M460.72 143.98L462.70 140.61L458.74 140.61Z" fill="#1a9a4a"/>
<path d="M469.68 138.38L471.66 135.01L467.70 135.01Z" fill="#1a9a4a"/>
<path d="M478.64 140.88L480.62 137.51L476.66 137.51Z" fill="#1a9a4a"/>
<path d="M487.60 138.38L489.58 135.01L485.62 135.01Z" fill="#1a9a4a"/>
<path d="M496.56 141.28L498.54 137.91L494.58 137.91Z" fill="#1a9a4a"/>
<path d="M505.52 140.18L507.50 136.81L503.54 136.81Z" fill="#1a9a4a"/>
<path d="M514.48 141.28L516.46 137.91L512.50 137.91Z" fill="#1a9a4a"/>
<path d="M523.44 142.78L525.42 139.41L521.46 139.41Z" fill="#1a9a4a"/>
<path d="M532.40 184.98L534.38 181.61L530.42 181.61Z" fill="#1a9a4a"/>
<rect x="384.20" y="130.10" width="161.40" height="93.70" fill="none" stroke="#7a7a7a" stroke-width="1.1"/>
<line x1="382.20" y1="223.80" x2="384.20" y2="223.80" stroke="#555" stroke-width="0.7"/>
<text x="380.80" y="225.81" font-size="5.9" text-anchor="end">–<tspan dx="-0.7">0.8</tspan></text>
<line x1="383.00" y1="218.59" x2="384.20" y2="218.59" stroke="#555" stroke-width="0.7"/>
<line x1="382.20" y1="213.39" x2="384.20" y2="213.39" stroke="#555" stroke-width="0.7"/>
<text x="380.80" y="215.39" font-size="5.9" text-anchor="end">–<tspan dx="-0.7">0.6</tspan></text>
<line x1="383.00" y1="208.18" x2="384.20" y2="208.18" stroke="#555" stroke-width="0.7"/>
<line x1="382.20" y1="202.98" x2="384.20" y2="202.98" stroke="#555" stroke-width="0.7"/>
<text x="380.80" y="204.98" font-size="5.9" text-anchor="end">–<tspan dx="-0.7">0.4</tspan></text>
<line x1="383.00" y1="197.77" x2="384.20" y2="197.77" stroke="#555" stroke-width="0.7"/>
<line x1="382.20" y1="192.57" x2="384.20" y2="192.57" stroke="#555" stroke-width="0.7"/>
<text x="380.80" y="194.57" font-size="5.9" text-anchor="end">–<tspan dx="-0.7">0.2</tspan></text>
<line x1="383.00" y1="187.36" x2="384.20" y2="187.36" stroke="#555" stroke-width="0.7"/>
<line x1="382.20" y1="182.16" x2="384.20" y2="182.16" stroke="#555" stroke-width="0.7"/>
<text x="380.80" y="184.16" font-size="5.9" text-anchor="end">0.0</text>
<line x1="383.00" y1="176.95" x2="384.20" y2="176.95" stroke="#555" stroke-width="0.7"/>
<line x1="382.20" y1="171.74" x2="384.20" y2="171.74" stroke="#555" stroke-width="0.7"/>
<text x="380.80" y="173.75" font-size="5.9" text-anchor="end">0.2</text>
<line x1="383.00" y1="166.54" x2="384.20" y2="166.54" stroke="#555" stroke-width="0.7"/>
<line x1="382.20" y1="161.33" x2="384.20" y2="161.33" stroke="#555" stroke-width="0.7"/>
<text x="380.80" y="163.34" font-size="5.9" text-anchor="end">0.4</text>
<line x1="383.00" y1="156.13" x2="384.20" y2="156.13" stroke="#555" stroke-width="0.7"/>
<line x1="382.20" y1="150.92" x2="384.20" y2="150.92" stroke="#555" stroke-width="0.7"/>
<text x="380.80" y="152.93" font-size="5.9" text-anchor="end">0.6</text>
<line x1="383.00" y1="145.72" x2="384.20" y2="145.72" stroke="#555" stroke-width="0.7"/>
<line x1="382.20" y1="140.51" x2="384.20" y2="140.51" stroke="#555" stroke-width="0.7"/>
<text x="380.80" y="142.52" font-size="5.9" text-anchor="end">0.8</text>
<line x1="383.00" y1="135.31" x2="384.20" y2="135.31" stroke="#555" stroke-width="0.7"/>
<line x1="382.20" y1="130.10" x2="384.20" y2="130.10" stroke="#555" stroke-width="0.7"/>
<text x="380.80" y="132.11" font-size="5.9" text-anchor="end">1.0</text>
<line x1="389.04" y1="223.80" x2="389.04" y2="225.80" stroke="#555" stroke-width="0.7"/>
<line x1="393.52" y1="223.80" x2="393.52" y2="225.00" stroke="#555" stroke-width="0.7"/>
<text x="393.44" y="232.10" font-size="5.6" text-anchor="end" style="stroke-width:0.16px" transform="rotate(-45 393.44 232.10)">2003</text>
<line x1="398.00" y1="223.80" x2="398.00" y2="225.80" stroke="#555" stroke-width="0.7"/>
<line x1="402.48" y1="223.80" x2="402.48" y2="225.00" stroke="#555" stroke-width="0.7"/>
<text x="402.40" y="232.10" font-size="5.6" text-anchor="end" style="stroke-width:0.16px" transform="rotate(-45 402.40 232.10)">2004</text>
<line x1="406.96" y1="223.80" x2="406.96" y2="225.80" stroke="#555" stroke-width="0.7"/>
<line x1="411.44" y1="223.80" x2="411.44" y2="225.00" stroke="#555" stroke-width="0.7"/>
<text x="411.36" y="232.10" font-size="5.6" text-anchor="end" style="stroke-width:0.16px" transform="rotate(-45 411.36 232.10)">2005</text>
<line x1="415.92" y1="223.80" x2="415.92" y2="225.80" stroke="#555" stroke-width="0.7"/>
<line x1="420.40" y1="223.80" x2="420.40" y2="225.00" stroke="#555" stroke-width="0.7"/>
<text x="420.32" y="232.10" font-size="5.6" text-anchor="end" style="stroke-width:0.16px" transform="rotate(-45 420.32 232.10)">2006</text>
<line x1="424.88" y1="223.80" x2="424.88" y2="225.80" stroke="#555" stroke-width="0.7"/>
<line x1="429.36" y1="223.80" x2="429.36" y2="225.00" stroke="#555" stroke-width="0.7"/>
<text x="429.28" y="232.10" font-size="5.6" text-anchor="end" style="stroke-width:0.16px" transform="rotate(-45 429.28 232.10)">2007</text>
<line x1="433.84" y1="223.80" x2="433.84" y2="225.80" stroke="#555" stroke-width="0.7"/>
<line x1="438.32" y1="223.80" x2="438.32" y2="225.00" stroke="#555" stroke-width="0.7"/>
<text x="438.24" y="232.10" font-size="5.6" text-anchor="end" style="stroke-width:0.16px" transform="rotate(-45 438.24 232.10)">2008</text>
<line x1="442.80" y1="223.80" x2="442.80" y2="225.80" stroke="#555" stroke-width="0.7"/>
<line x1="447.28" y1="223.80" x2="447.28" y2="225.00" stroke="#555" stroke-width="0.7"/>
<text x="447.20" y="232.10" font-size="5.6" text-anchor="end" style="stroke-width:0.16px" transform="rotate(-45 447.20 232.10)">2009</text>
<line x1="451.76" y1="223.80" x2="451.76" y2="225.80" stroke="#555" stroke-width="0.7"/>
<line x1="456.24" y1="223.80" x2="456.24" y2="225.00" stroke="#555" stroke-width="0.7"/>
<text x="456.16" y="232.10" font-size="5.6" text-anchor="end" style="stroke-width:0.16px" transform="rotate(-45 456.16 232.10)">2010</text>
<line x1="460.72" y1="223.80" x2="460.72" y2="225.80" stroke="#555" stroke-width="0.7"/>
<line x1="465.20" y1="223.80" x2="465.20" y2="225.00" stroke="#555" stroke-width="0.7"/>
<text x="465.12" y="232.10" font-size="5.6" text-anchor="end" style="stroke-width:0.16px" transform="rotate(-45 465.12 232.10)">2011</text>
<line x1="469.68" y1="223.80" x2="469.68" y2="225.80" stroke="#555" stroke-width="0.7"/>
<line x1="474.16" y1="223.80" x2="474.16" y2="225.00" stroke="#555" stroke-width="0.7"/>
<text x="474.08" y="232.10" font-size="5.6" text-anchor="end" style="stroke-width:0.16px" transform="rotate(-45 474.08 232.10)">2012</text>
<line x1="478.64" y1="223.80" x2="478.64" y2="225.80" stroke="#555" stroke-width="0.7"/>
<line x1="483.12" y1="223.80" x2="483.12" y2="225.00" stroke="#555" stroke-width="0.7"/>
<text x="483.04" y="232.10" font-size="5.6" text-anchor="end" style="stroke-width:0.16px" transform="rotate(-45 483.04 232.10)">2013</text>
<line x1="487.60" y1="223.80" x2="487.60" y2="225.80" stroke="#555" stroke-width="0.7"/>
<line x1="492.08" y1="223.80" x2="492.08" y2="225.00" stroke="#555" stroke-width="0.7"/>
<text x="492.00" y="232.10" font-size="5.6" text-anchor="end" style="stroke-width:0.16px" transform="rotate(-45 492.00 232.10)">2014</text>
<line x1="496.56" y1="223.80" x2="496.56" y2="225.80" stroke="#555" stroke-width="0.7"/>
<line x1="501.04" y1="223.80" x2="501.04" y2="225.00" stroke="#555" stroke-width="0.7"/>
<text x="500.96" y="232.10" font-size="5.6" text-anchor="end" style="stroke-width:0.16px" transform="rotate(-45 500.96 232.10)">2015</text>
<line x1="505.52" y1="223.80" x2="505.52" y2="225.80" stroke="#555" stroke-width="0.7"/>
<line x1="510.00" y1="223.80" x2="510.00" y2="225.00" stroke="#555" stroke-width="0.7"/>
<text x="509.92" y="232.10" font-size="5.6" text-anchor="end" style="stroke-width:0.16px" transform="rotate(-45 509.92 232.10)">2016</text>
<line x1="514.48" y1="223.80" x2="514.48" y2="225.80" stroke="#555" stroke-width="0.7"/>
<line x1="518.96" y1="223.80" x2="518.96" y2="225.00" stroke="#555" stroke-width="0.7"/>
<text x="518.88" y="232.10" font-size="5.6" text-anchor="end" style="stroke-width:0.16px" transform="rotate(-45 518.88 232.10)">2017</text>
<line x1="523.44" y1="223.80" x2="523.44" y2="225.80" stroke="#555" stroke-width="0.7"/>
<line x1="527.92" y1="223.80" x2="527.92" y2="225.00" stroke="#555" stroke-width="0.7"/>
<text x="527.84" y="232.10" font-size="5.6" text-anchor="end" style="stroke-width:0.16px" transform="rotate(-45 527.84 232.10)">2018</text>
<line x1="532.40" y1="223.80" x2="532.40" y2="225.80" stroke="#555" stroke-width="0.7"/>
<line x1="536.88" y1="223.80" x2="536.88" y2="225.00" stroke="#555" stroke-width="0.7"/>
<text x="536.80" y="232.10" font-size="5.6" text-anchor="end" style="stroke-width:0.16px" transform="rotate(-45 536.80 232.10)">2019</text>
<line x1="541.36" y1="223.80" x2="541.36" y2="225.80" stroke="#555" stroke-width="0.7"/>
<text x="545.76" y="232.10" font-size="5.6" text-anchor="end" style="stroke-width:0.16px" transform="rotate(-45 545.76 232.10)">2020</text>
<text x="464.10" y="246.5" font-size="6.5" text-anchor="middle">Year</text>
<text x="370.60" y="179.70" font-size="6.7" text-anchor="middle" transform="rotate(-90 370.60 179.70)">Correlated coefficients</text>
<line x1="386.90" y1="206.70" x2="399.60" y2="206.70" stroke="#444444" stroke-width="0.85"/>
<rect x="391.65" y="205.10" width="3.20" height="3.20" fill="#2b2b2b"/>
<text x="400.90" y="208.54" font-size="5.75">( Growing City )</text>
<line x1="386.90" y1="213.90" x2="399.60" y2="213.90" stroke="#2a6ae8" stroke-width="0.85"/>
<path d="M393.25 211.92L395.23 215.29L391.27 215.29Z" fill="#1f5fe6"/>
<text x="400.90" y="215.74" font-size="5.75">( Declining City )</text>
<line x1="443.60" y1="206.70" x2="456.40" y2="206.70" stroke="#f03a3a" stroke-width="0.85"/>
<circle cx="450.00" cy="206.70" r="1.75" fill="#f01e1e"/>
<text x="457.80" y="208.54" font-size="5.75">( Mature City )</text>
<line x1="443.60" y1="213.90" x2="456.40" y2="213.90" stroke="#24a052" stroke-width="0.85"/>
<path d="M450.00 215.88L451.98 212.51L448.02 212.51Z" fill="#1a9a4a"/>
<text x="457.80" y="215.74" font-size="5.75" textLength="47.29" lengthAdjust="spacingAndGlyphs">( Regenerative City )</text>
<text x="537.70" y="222.40" font-size="11">f</text>
</svg>
</body></html>
